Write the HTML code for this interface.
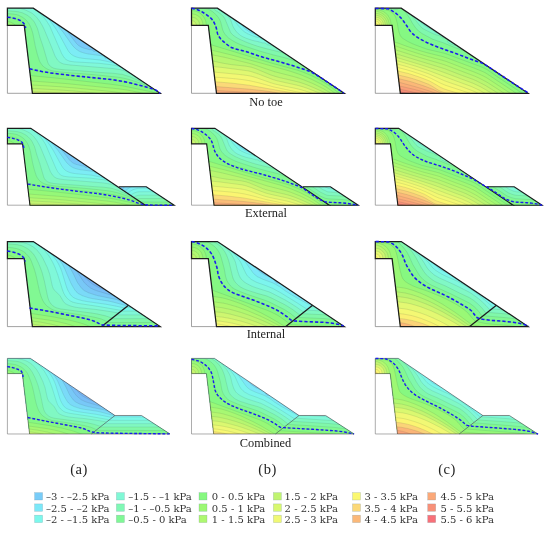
<!DOCTYPE html>
<html><head><meta charset="utf-8"><title>Pore pressure contours</title>
<style>
html,body{margin:0;padding:0;background:#fff}
svg{display:block}
.dl{fill:none;stroke:#1a1af0;stroke-width:1.55;stroke-dasharray:3.2 2.1}
.sl{fill:none;stroke:#1a1af0;stroke-width:1.5}
.ol{fill:none;stroke:#1c1c1c;stroke-width:1.25;stroke-linejoin:miter}
.ol4{fill:none;stroke:#4a4a4a;stroke-width:.7}
.wb{fill:none;stroke:#7a7a7a;stroke-width:.7}
.lb{font-family:"Liberation Serif","DejaVu Serif",serif;font-size:12.4px;text-anchor:middle;fill:#222}
.abc{font-family:"Liberation Serif","DejaVu Serif",serif;font-size:14.5px;letter-spacing:.6px;text-anchor:middle;fill:#222}
.lg{font-family:"DejaVu Serif","Liberation Serif",serif;font-size:10px;fill:#333}
.sw{stroke:#6a8a9a;stroke-opacity:.45;stroke-width:.5}
</style></head><body>
<svg width="550" height="533" viewBox="0 0 550 533">
<rect width="550" height="533" fill="#fff"/>
<defs>
<g id="fa1"><rect x="-4" y="-4" width="164" height="94" fill="#78c8f7"/>
<path d="M-3 -4 37.5 -4 41.1 0 45.9 7 50 12.2 56.3 19 58.9 22 68.8 35 70.8 37 73 38.5 76.6 40 81 41.2 84 41.6 85 41.9 86 42.9 87 43.3 89 42.6 90 42.7 93 43.8 94 44.2 96.4 46 98.3 47 99 47.7 100 47.1 101 46.9 102 47 103 47.4 106 49.4 108 50.5 116 53.3 123 57.2 130 59.7 139 63.5 143 64.6 153 66.5 160 68.2 160 90 -4 90 -4 -4 -3 -4Z" fill="#7adaf8"/>
<path d="M-3 -4 32.6 -4 36 -1.1 38.7 2 43 8.5 49 16 52.5 20 55.7 24 63.4 35 65.7 38 68 40.3 71 42.5 73 43.6 75 44.3 80 45.6 96 47.8 96.8 48 97.1 49 98 50.1 99 50.1 100 49.1 101 49 103.2 51 105 52.1 109 53.5 113 54.4 115 55 117 56 122 59.3 129 61.6 138 65.8 142 67 153 68.9 160 70.8 160 90 -4 90 -4 -4 -3 -4Z" fill="#7cecf5"/>
<path d="M-3 -4 25.4 -4 29 -2.3 32.3 0 36 3.6 38 6.2 40.4 10 45.3 16 48.1 20 51.1 25 54.5 31 58 37.7 61 42.8 63 45.3 65 46.9 68 48.5 72 49.6 77 50.3 93 51.8 100 53.2 109 55.6 113 56.4 116 57.6 121 61.3 125 62.3 128 63.3 135 67.1 138 68.5 141 69.3 148 70.3 151.8 71 155.5 72 160 73.5 160 90 -4 90 -4 -4 -3 -4Z" fill="#7cf8eb"/>
<path d="M-3 -4 10.6 -4 16 -2.9 22 -1.1 27 1 29 2.2 32 4.7 35 7.7 37 9.9 40.1 14 41.9 17 43.8 21 46.7 28 54.1 45 55.8 48 57 49.7 58.3 51 59.8 52 62 52.9 65 53.4 71 54 86 54.7 92 55.1 102 56.3 107 57 111.5 58 114 58.8 116 59.9 120.3 63 123 63.5 126 64.6 128 65.6 134 69.2 137.9 71 141 71.7 147 72.3 150 72.9 153 73.7 157 75 160 76.2 160 90 -4 90 -4 -4 -3 -4Z" fill="#7ff8d9"/>
<path d="M-3 -2.6 3 -1 12 0.1 17 1.4 20.9 3 24 4.6 26 6.1 28.1 8 30.8 11 32.3 13 35.7 19 41 31.1 44.2 39 46.8 46 48 48.6 50.2 52 52 53.7 53 54.4 56 55.7 63 56.8 102 60 111 61.1 115 62 118 63 120 64.4 122.4 65 131 70 137 73 140 73.8 146 74.3 149.6 75 153 76.1 160 79.1 160 90 -4 90 -4 -2.9 -3 -2.6Z" fill="#80f8c3"/>
<path d="M-3 1.8 0 2.6 5 2.9 11 3.6 15 4.6 18 6 21 7.8 23 9.4 25.5 12 27 14 28.1 16 30.3 21 32.5 29 35.5 38 40.7 55 41.9 57 42.8 58 44.3 59 47 60.2 53 61.2 62 62 73 62.6 93 64.3 107 65.2 112 65.7 116 66.4 121 68 138 75.3 140 75.7 146 76.3 149 77 151.4 78 160 82.1 160 90 -4 90 -4 1.5 -3 1.8Z" fill="#80f8aa"/>
<path d="M-3 5.2 6 5.9 9 6.4 11 7 14 8.4 16.5 10 18.8 12 20.5 14 22.9 18 24.8 23 25.6 26 27.4 36 28.3 40 30.4 48 31.8 52 33.3 55 34.7 57 36.9 59 40 61 42.7 62 45 62.6 52 63.7 59 64.4 79 65.8 103 68.1 112 69.2 119 70.6 130 73.8 139 77.3 145 78.2 147 78.7 149 79.5 155 82.8 160 85.2 160 90 -4 90 -4 5.1 -3 5.2Z" fill="#81f893"/>
<path d="M-3 8.8 4 9.5 8 10.4 10 11 13 12.5 15 13.9 16.1 15 17.4 17 18.2 20 18.3 23 17.7 26 15.8 31 15.2 34 14.7 40 14.9 45 15.8 50 17 53.6 19 57.1 21 59.6 22 60.5 23.4 61 41 64.5 65 67.4 102 71.2 114 73 123.9 75 132.2 77 146.5 81 148 81.8 152.8 85 160 88.5 160 90 -4 90 -4 8.7 -3 8.8Z" fill="#85f882"/>
<path d="M-3 12.8 0 13.2 2 13.6 5.3 15 6.8 16 9 18 10.3 20 10.7 22 10.7 24 8.2 34 7.4 40 7.3 45 7.9 50 9.3 55 10.8 58 12 60 13.5 62 15.6 64 17 65.1 19 66.2 21 66.9 24 67.5 55 70.5 104 76.1 116 77.8 144 83.6 146 84.4 151 87.5 156 90 -4 90 -4 12.7 -3 12.8Z" fill="#95f878"/>
<path d="M-3 18.5 -1.5 19 0.1 20 0.9 21 1.4 22 1.9 24 2 27 0.6 37 0.4 43 1 49 1.7 52 2.7 55 5.2 60 8.1 64 10 66 12.4 68 15 69.7 17 70.7 20.3 72 24 72.8 38 73.7 57 75.2 105 79.9 114 81 123 82.4 131 84.1 143 87.3 146 88.5 148.9 90 -4 90 -4 18.3 -3 18.5Z" fill="#a5f872"/>
<path d="M-3.9 54 -2.2 58 0.2 62 2.4 65 5.2 68 8.9 71 12 73 16 74.9 20 76.1 25 76.9 47 78.2 68 79.8 101.4 83 108.9 84 114 85 121 85.5 126 86.2 131 87.4 139.4 90 -4 90 -3.9 54Z" fill="#b3f770"/>
<path d="M-3.8 65 -1.2 68 1 70.2 4 72.7 7 74.7 10 76.4 13 77.7 16.8 79 20 79.7 24 80.2 51 81.7 75 83.5 88 85.1 99 86.2 114 88.6 122 89.2 127.1 90 -4 90 -4 64.7 -3.8 65Z" fill="#c2f470"/>
<path d="M-3.5 72 1.6 76 6.7 79 12 81.2 15 82.1 18 82.7 22 83.2 48 84.4 65 85.7 76 86.8 87 88.4 100.8 90 -4 90 -4 71.5 -3.5 72Z" fill="#d6f870"/><path d="M37.5 -4 41.1 0 46 7.1 49 11 58.1 21 69 35.2 70.8 37 72.2 38 74 39 76.6 40 82 41.4 84 41.6 85.1 42 86.2 43 87 43.3 89 42.6 90 42.7 94 44.2 96.4 46 98.3 47 99 47.7 100 47.1 101 46.9 102 47 103 47.4 107 50 109.1 51 115 52.9 117.5 54 122.6 57 124 57.6 131 60.1 140 63.8 143 64.6 153 66.5 160 68.2M32.6 -4 36.1 -1 38 1.1 39.4 3 43 8.5 56 24.3 64.2 36 66 38.3 69 41.1 71 42.5 73 43.6 75 44.3 78 45.2 81 45.8 96 47.8 96.8 48 97.1 49 98 50.1 99.1 50 100 49.1 101 49 103.2 51 105 52.1 110 53.8 114 54.7 116 55.5 122 59.3 129 61.6 137 65.4 139 66.2 144 67.4 152 68.7 160 70.8M25.4 -4 28 -2.8 30 -1.7 32.3 0 34.5 2 36.3 4 41 10.7 43.7 14 47.4 19 50 23.1 53 28.3 59.3 40 61.1 43 62.7 45 64 46.2 66 47.5 69.5 49 72 49.6 76 50.2 93 51.8 102 53.7 109 55.6 113 56.4 115 57.1 117 58.3 121 61.3 125 62.3 127.2 63 129.4 64 136 67.6 138 68.5 142 69.5 151 70.8 154 71.6 160 73.5M10.6 -4 17 -2.7 21 -1.4 27 1 29 2.2 31.1 4 34 6.6 36.2 9 39.3 13 42.4 18 54.1 45 55.8 48 57.2 50 58.3 51 60 52.1 62.3 53 67 53.7 92 55.1 102 56.3 107 57 111.5 58 115 59.3 117 60.5 120.3 63 123 63.5 127 65 133.7 69 138 71 140 71.5 147 72.3 150 72.9 153 73.7 160 76.2M-4 -2.9 3.1 -1 13 0.3 15.8 1 18 1.8 23 4.1 25 5.3 27.1 7 29.1 9 32.3 13 34.7 17 36.7 21 44.2 39 47.7 48 50.2 52 52.4 54 54.1 55 56 55.7 58 56.1 63 56.8 98 59.7 106 60.4 112 61.3 115.1 62 118 63 120 64.4 122.4 65 130 69.4 137.1 73 139 73.6 146 74.3 149 74.8 154 76.5 160 79.1M-4 1.5 0 2.6 7 3.1 11 3.6 15 4.6 19.8 7 23 9.4 24.6 11 26.3 13 27.6 15 30 20.1 30.9 23 32.5 29 35.9 39 40.3 54 41.2 56 42 57.1 44.3 59 46.4 60 48 60.4 51.3 61 56 61.5 73 62.6 96 64.5 106 65.1 115 66.2 122 68.4 138 75.3 139 75.6 146 76.3 150 77.4 160 82.1M-4 5.1 6 5.9 9 6.4 11 7 15 9 18 11.2 19.7 13 21.2 15 22.4 17 23.8 20 24.8 23 25.6 26 27.9 38 29.9 46 32 52.5 32.7 54 35 57.3 37 59.1 40.1 61 43 62.1 46 62.8 50 63.4 57 64.2 81 66 92 67 112 69.2 116.3 70 121 71.1 128 73.2 133.2 75 139 77.3 146 78.4 148 79 156 83.3 160 85.2M-4 8.7 5 9.7 10 11 12.2 12 15.2 14 16.1 15 17.4 17 18 19 18.3 21 18.3 23 18 25 15.8 31 15.3 33 14.9 36 14.7 40 15.1 46 16.1 51 17 53.6 19 57.1 21 59.6 22 60.5 23.4 61 29 62.2 39 64.2 44 64.9 68 67.7 100 70.9 114 73 124 75 135 77.8 146.5 81 152 84.5 160 88.5M-4 12.7 0 13.2 2 13.6 4 14.3 7 16.2 9 18 10.3 20 10.7 22 10.7 24 7.7 37 7.4 40 7.3 46 7.7 49 9 54.1 11 58.4 13.5 62 16 64.3 18 65.7 20 66.6 22 67.2 24 67.5 47 69.7 66 71.8 103 76 116 77.8 144 83.6 145.1 84 147 85 151 87.5 156 90M-4 18.3 -2 18.8 -1 19.2 0.1 20 1 21.2 1.7 23 2 25 2 27 0.6 37 0.4 43 1 49 1.7 52 2.7 55 5 59.7 7.3 63 9 65 11.1 67 13 68.4 17 70.7 21 72.2 23 72.7 59 75.4 111 80.6 120 81.9 131 84.1 143 87.3 145 88.1 148.9 90M-4 53.8 -1.6 59 0.2 62 2 64.5 5.2 68 7.5 70 12 73 15 74.4 18 75.6 21 76.3 26 76.9 52 78.5 68 79.8 103 83.2 109 84 115 85.1 122 85.6 126 86.2 130 87.1 139.4 90M-4 64.7 -2.1 67 2 71.1 4.4 73 7 74.7 12 77.3 15 78.4 18 79.3 21 79.9 24 80.2 51 81.7 67 82.8 78 83.8 89 85.2 97 86 103 86.7 114 88.6 122 89.2 127.1 90M-4 71.5 1 75.6 4 77.5 6.7 79 12 81.2 15 82.1 18 82.7 22 83.2 48 84.4 65 85.7 76 86.8 87 88.4 100.8 90" fill="none" stroke="#2c4a44" stroke-opacity=".3" stroke-width=".42"/></g>
<clipPath id="cp00"><polygon points="0,0 25.9,0 152.8,85.1 25,85.1 16.8,17.1 0,17.1"/></clipPath>
<clipPath id="cp01"><polygon points="0,0 25.9,0 152.8,85.1 25,85.1 16.8,17.1 0,17.1"/></clipPath>
<g id="t01"><rect x="80" y="50" width="114.5" height="39.5" fill="#78caf8"/>
<path d="M143.5 58.9 147 58.7 191.5 58.7 194.5 58.9 194.5 89.5 80 89.5 80 85.2 120.3 85 120.8 80.5 122 76 124.2 71.5 127 67.7 130.5 64.4 134.5 61.8 139 59.9 143.5 58.9Z" fill="#7adef8"/>
<path d="M142.5 63 147 62.5 191.5 62.5 194.5 62.8 194.5 89.5 80 89.5 80 85.2 124.1 85 124.5 81 125.5 77.5 127.1 74 129.5 70.6 132.1 68 135.5 65.6 139 63.9 142.5 63Z" fill="#7ceef4"/>
<path d="M144.5 66.5 147 66.3 191.5 66.3 194.5 66.6 194.5 89.5 80 89.5 80 85.2 127.9 85 128.3 81.5 129.2 78.5 130.7 75.5 132.9 72.5 135.5 70.1 138.1 68.5 141 67.3 144.5 66.5Z" fill="#7cf8e9"/>
<path d="M144 70.4 147 70.1 190.5 70.1 192.5 70.2 194.5 70.5 194.5 89.5 80 89.5 80 85.2 131.7 85 132 82.5 132.7 80 133.9 77.5 135.3 75.5 137 73.8 139 72.3 141.5 71.1 144 70.4Z" fill="#80f8d8"/>
<path d="M146 74 191.5 73.9 194.5 74.4 194.5 89.5 80 89.5 80 85.2 135.5 85 135.8 83 136.4 81 137.4 79 138.6 77.5 140.4 76 142 75 144 74.3 146 74Z" fill="#80f8c1"/>
<path d="M145 78 147 77.7 191.5 77.7 193 77.9 194.5 78.5 194.5 89.5 80 89.5 80 85.2 139.3 85 139.9 82.5 141 80.5 143 78.8 145 78Z" fill="#80f8a9"/>
<path d="M145.5 81.8 147 81.5 192 81.6 193.5 82.3 194.5 83.4 194.5 89.5 80 89.5 80 85.2 142.5 85 143.1 85 143.4 84 143.9 83 144.5 82.4 145.5 81.8Z" fill="#81f892"/><path d="M80 85.2 120.3 85 120.9 80 121.5 77.5 122.4 75 123.5 72.7 126 68.9 127.6 67 129.5 65.2 131.5 63.6 135.5 61.3 138 60.3 140.5 59.5 145.5 58.8 148.5 58.7 193 58.8 194.5 58.9M80 85.2 124.1 85 124.6 80.5 126 76.3 128.1 72.5 129.6 70.5 132.7 67.5 134.5 66.2 136.6 65 138.8 64 142.5 63 147 62.5 194.5 62.8M80 85.2 127.9 85 128.4 81 129 79 130.7 75.5 133 72.4 134.5 70.9 136.4 69.5 138.1 68.5 140 67.6 144 66.5 146 66.3 149.5 66.3 193.5 66.5 194.5 66.6M80 85.2 131.7 85 131.9 83 132.4 81 133 79.2 134.5 76.5 135.8 75 138.5 72.7 140 71.8 143.5 70.5 145.5 70.2 188.5 70.1 193 70.2 194.5 70.5M80 85.2 135.5 85 136 82 136.6 80.5 137.5 78.9 138.6 77.5 140 76.3 141.5 75.3 144.5 74.2 148 73.9 191.5 73.9 194.5 74.4M80 85.2 139.3 85 139.5 83.5 140 82.2 141 80.5 142 79.5 144 78.3 145.5 77.9 147 77.7 192.5 77.8 194.5 78.5M80 85.2 143.1 85 143.4 84 143.9 83 144.5 82.4 145.5 81.8 146.5 81.5 192 81.6 193.1 82 194 82.7 194.5 83.4" fill="none" stroke="#2c4a44" stroke-opacity=".3" stroke-width=".42"/></g>
<clipPath id="ctp01"><polygon points="123.5,64.6 153.9,64.6 184.8,85.1 152.8,85.1"/></clipPath>
<g id="fa3"><rect x="-4" y="-4" width="164" height="94" fill="#78b3f4"/>
<path d="M-3 -4 42.9 -4 49.4 4 53.9 9 57 11.8 63 16.8 66 19.7 67.9 22 78 36 81 39.3 85 42.5 88 44.3 93 46.7 95 47.5 99.9 49 103 50.2 106 51.9 110 54.9 112 55.3 113.9 56 118 58.7 119 59 122 59.4 125 60.1 134 63 146.3 68 160 74.1 160 90 -4 90 -4 -4 -3 -4Z" fill="#78bdf6"/>
<path d="M-3 -4 39.3 -4 41.9 -1 46.5 5 52 11.2 54 13.2 62 19.9 64 22 65.5 24 68 28.1 72.9 35 76 39.9 78 42.2 81 44.9 84 47 88 48.8 98 52 106 54.1 109 55.5 110.6 56 112.7 57 116 59.2 117 60 118 60.5 120 60.7 123 61.4 127.8 63 132.9 65 144.5 70 160 77.3 160 90 -4 90 -4 -4 -3 -4Z" fill="#78c8f7"/>
<path d="M-3 -4 35.4 -4 39 -0.4 43.8 6 48 10.5 50.8 14 55.2 18 61.2 24 62 25.1 65.8 32 70.1 41 73.5 46 76 48.5 78 49.8 80.4 51 87 53.3 92 54.5 109 57.9 111 58.8 115 60.4 117 61.6 119.2 62 122.2 63 131.8 67 142.6 72 159.1 80 160 80.5 160 90 -4 90 -4 -4 -3 -4Z" fill="#7adaf8"/>
<path d="M-3 -4 30.6 -4 34 -1.6 37 1.1 39 3.6 41.9 8 46.2 12 49 15.6 51.4 18 53.9 21 55.2 23 56.8 26 62.3 39 64.2 43 67.8 49 69.6 51 70.8 52 72.4 53 75 54.2 81 56.2 87 57.4 103 59.9 113 62.4 117 63.7 120 64.4 122 65.2 136.5 72 160 83.8 160 90 -4 90 -4 -4 -3 -4Z" fill="#7cecf5"/>
<path d="M-3 -4 23.2 -4 26 -2.9 29 -1.4 32 0.4 34 1.9 37 4.9 40.6 10 43 12 46 15 49.1 19 50.3 21 52 24.1 54 28.9 58.2 43 60 47.7 61.7 51 62.9 53 64.7 55 66.1 56 68 57 70.7 58 77 59.6 83 60.6 95 62.2 101 63.2 118 66.7 121 67.6 124.4 69 130.6 72 160 87.2 160 90 -4 90 -4 -4 -3 -4Z" fill="#7cf8eb"/>
<path d="M-3 -4 8.1 -4 16 -2.5 20 -1.5 24.1 0 28.3 2 32 4.4 36 7.7 38 9.8 41.3 14 44.3 19 46.8 24 49.6 31 54.9 48 57 53 58.3 55 60 57 63 59.5 66 60.8 70 61.8 84 63.8 94 65.4 113 68.8 117 69.6 120 70.4 124 72 130 74.9 158.7 90 -4 90 -4 -4 -3 -4Z" fill="#7ff8d9"/>
<path d="M-3 -2.3 1 -1.5 14 0.6 18 1.7 22 3.2 25.3 5 27.9 7 29.9 9 32.5 12 34.5 15 37.7 21 39.9 26 42.4 33 44.5 43 45.1 45 46 47.2 47.3 49 51 52.5 53 54.8 55.3 59 56.8 61 57.8 62 59 62.7 61.8 64 64 64.8 69 65.9 75 66.7 89 68 96.5 69 111 71.4 117.2 73 122 74.6 127.2 77 152 90 -4 90 -4 -2.6 -3 -2.3Z" fill="#80f8c3"/>
<path d="M-3 1.8 0 2.5 4 2.6 9 3.1 12 3.6 14 4.1 18.1 6 21.4 8 23.7 10 26 12.6 28 15.5 29.9 19 32.5 25 34.7 31 36.6 38 40 54 41.1 58 42 60 43.3 62 45.2 64 47 65.3 50 66.7 55 67.8 81 71 91 72.6 98 74.3 104 76.3 105 76.4 109 75.8 111 75.8 116 76.6 121 78.2 126 80.2 133.7 84 145.1 90 -4 90 -4 1.5 -3 1.8Z" fill="#80f8aa"/>
<path d="M-3 5.5 5 6.3 9 7 12 8 15 9.4 17.4 11 19.6 13 21.3 15 22.7 17 24.1 20 27 27.9 29 35 31.3 46 32.5 51 34.5 57 36.6 61 38.1 63 40.2 65 43.1 67 47.3 69 52 70.2 75 73.5 88.6 76 94 77.5 99.8 80 101 80.3 105 80.7 113 80.6 118 81.5 122 82.7 126 84.3 137.8 90 -4 90 -4 5.3 -3 5.5Z" fill="#81f893"/>
<path d="M-3 9.2 4 10.2 8 11.2 11 12.3 13 13.3 15 14.8 16 16 17.2 18 18 20 18.2 23 17.9 25 15.7 31 15.1 34 14.7 41 15 48 16 53.7 18 59.7 19.8 64 21 65.6 22 66.4 23 66.7 29 67.6 43 70.1 60 73.6 77.6 77 82 78.1 87.8 80 93 82.7 95 83.4 98 83.9 111 84.8 116 85.5 122 87.1 129.4 90 -4 90 -4 9 -3 9.2Z" fill="#85f882"/>
<path d="M-3.6 13 1 13.6 3 14.2 4.9 15 8.1 17 9.1 18 10.4 20 10.8 22 10.7 25 8.2 35 7.2 41 7 46 7.3 51 7.8 54 8.6 57 10.6 62 13.2 66 15 68 17 69.6 19.7 71 22 71.7 48 75.8 57 77.5 66 79.6 75 82.1 83 85.1 92 87.6 96 88.1 103 88.3 107 88.7 112 89.3 116.2 90 -4 90 -4 13 -3.6 13Z" fill="#95f878"/>
<path d="M-3 18.3 -0.6 19 0.8 20 2.2 22 2.6 24 2.6 27 0.9 37 0.3 43 0.5 49 1.6 55 3.3 60 5.4 64 8.3 68 11 70.6 12.8 72 15 73.3 17 74.3 20 75.3 23 76 33 77.3 44 79 56 81.4 60 82.5 64.8 84 76 88.3 80.9 90 -4 90 -4 18.2 -3 18.3Z" fill="#a5f872"/>
<path d="M-3.9 57 -2.6 60 -1.1 63 0.7 66 3 69 5 71.1 8 73.7 10 75 13 76.7 16.4 78 20 78.9 34 80.8 45.2 83 59 86.6 63 87.9 68.1 90 -4 90 -4 56.6 -3.9 57Z" fill="#b3f770"/>
<path d="M-3.7 68 -0.3 72 4 75.8 8 78.4 13 80.7 16 81.6 19 82.2 28 83 39 84.9 55.4 90 -4 90 -4 67.6 -3.7 68Z" fill="#c2f470"/><path d="M42.9 -4 49.4 4 53 8 55 10 64 17.7 66 19.7 69.3 24 77.2 35 79 37.2 81 39.3 85 42.5 90 45.3 94 47.1 103 50.2 107 52.6 110 54.9 113 55.6 114 56.1 118 58.7 126 60.4 135 63.4 142 66.2 160 74.1M39.3 -4 41.1 -2 46.5 5 53 12.2 62.1 20 64 22 65.5 24 68.6 29 72.2 34 75.4 39 77 41.1 79 43.2 83 46.4 87 48.4 90 49.5 107 54.5 113 57.2 117 60 118 60.5 122 61.1 125 62 130.4 64 147 71.1 160 77.3M35.4 -4 37.6 -2 39.4 0 44 6.3 48.4 11 51 14.2 56.2 19 61.2 24 62 25.1 65.8 32 69.5 40 71 42.4 74.4 47 77 49.2 81 51.2 88 53.5 91 54.3 109.2 58 115 60.4 117 61.6 119.2 62 122.2 63 129 65.8 144.7 73 160 80.5M30.6 -4 34 -1.6 36 0.1 38 2.3 39.3 4 42 8.1 46.2 12 49.3 16 52.3 19 54 21.1 55.2 23 56.8 26 63.2 41 65 44.4 67.1 48 68.6 50 71 52.1 75 54.2 81 56.2 85 57.1 101 59.5 105 60.4 120 64.4 128.2 68 160 83.8M23.2 -4 26 -2.9 29 -1.4 33 1.1 35.2 3 37.1 5 40.6 10 44.1 13 46 15 49.1 19 51 22.2 53.3 27 54.4 30 59.3 46 60.6 49 63 53.1 64 54.3 66.1 56 68 57 71 58.1 75 59.2 80 60.1 99 62.8 108 64.5 119 66.9 121 67.6 129 71.2 160 87.2M8.1 -4 20 -1.5 26 0.8 28.3 2 31 3.7 35.2 7 37 8.7 41.3 14 43.7 18 45.9 22 47.7 26 50.3 33 55.3 49 56.5 52 58.3 55 60 57 63 59.5 65 60.5 67 61.1 70 61.8 91.4 65 116 69.3 119 70.1 122 71.1 126 72.9 158.7 90M-4 -2.6 -1 -1.9 16 1.1 19 2 22 3.2 26 5.5 27.9 7 30 9.1 33.2 13 35.6 17 40 26.2 42.4 33 45 44.8 46 47.2 47 48.6 52.4 54 53.1 55 56 60 57 61.2 58 62.1 60 63.2 62 64.1 65 65 68 65.7 72 66.3 88 67.9 105 70.4 113.4 72 120 73.9 127.2 77 152 90M-4 1.5 -1 2.3 10 3.2 14 4.1 16.1 5 19 6.5 21.4 8 24.7 11 26.3 13 28 15.5 31 21.4 32.9 26 34.7 31 37 39.6 40.2 55 41.1 58 42 60 43.3 62 45.2 64 47 65.3 49 66.3 53 67.4 84 71.5 90 72.5 98 74.3 104 76.3 105 76.4 109 75.8 111 75.8 116 76.6 122 78.5 126 80.2 131 82.6 145.1 90M-4 5.3 5 6.3 9 7 11 7.6 15 9.4 17 10.7 18.6 12 21.3 15 22.7 17 24 19.7 26.7 27 28 31.3 29.4 37 31.3 46 32.5 51 33.7 55 35.4 59 36.6 61 38.1 63 40.2 65 44 67.5 46 68.5 50 69.8 74 73.4 87 75.7 94 77.5 100 80.1 102 80.4 105 80.7 113 80.6 116 81 119 81.7 122 82.7 126 84.3 137.8 90M-4 9 4 10.2 10.2 12 12.4 13 14 14 16 16 17.2 18 18 20 18.2 23 17.9 25 15.5 32 15 34.9 14.7 41 14.8 45 15.1 49 15.6 52 16.4 55 19.3 63 20 64.3 21 65.6 22 66.4 23 66.7 36 68.8 79 77.3 84 78.7 88 80.1 93.7 83 95 83.4 100 84 113 85 116 85.5 122 87.1 129.4 90M-4 13 0 13.4 2.4 14 4 14.6 6 15.6 8.1 17 9.1 18 10.4 20 10.8 22 10.8 24 10.5 26 8.4 34 7.2 41 7 47 7.2 50 7.6 53 8.3 56 10.1 61 12.4 65 14 67 17 69.6 20 71.1 22 71.7 46 75.4 62 78.6 72 81.2 76 82.4 83 85.1 92 87.6 97 88.2 106 88.6 112 89.3 116.2 90M-4 18.2 -2 18.5 0 19.3 1 20.2 1.6 21 2.5 23 2.7 25 2.6 27 0.7 38 0.4 41 0.3 47 0.6 50 1.1 53 1.9 56 2.9 59 4.3 62 7 66.4 10.3 70 14 72.8 16 73.8 20 75.3 23.1 76 42 78.7 50 80.1 58.3 82 62 83.1 67.6 85 80.9 90M-4 56.6 -2.6 60 -1.1 63 0.7 66 3 69 5 71.1 8 73.7 10 75 13 76.7 16.4 78 20 78.9 34 80.8 45.2 83 59 86.6 63 87.9 68.1 90M-4 67.6 -0.3 72 3 75 7.3 78 12 80.3 15 81.3 18 82 28 83 39 84.9 55.4 90" fill="none" stroke="#2c4a44" stroke-opacity=".3" stroke-width=".42"/></g>
<clipPath id="cp02"><polygon points="0,0 25.9,0 121.1,63.8 94.3,85.1 25,85.1 16.8,17.1 0,17.1"/></clipPath>
<g id="t02"><rect x="80" y="50" width="114.5" height="39.5" fill="#7ceef4"/>
<path d="M85 66 87.5 65.8 157.5 65.8 161.5 66.2 164.5 67.1 167.4 68.5 170 70.4 172.1 72.5 173.9 75 175.3 78 176.2 81 176.6 84.5 194.5 84.6 194.5 89.5 80 89.5 80 67.4 82.5 66.5 85 66Z" fill="#7cf8e9"/>
<path d="M84.5 69.9 87.5 69.6 157.5 69.6 160.5 69.9 163 70.6 165.5 71.8 167.5 73.3 169.2 75 170.6 77 171.8 79.5 172.5 82 172.8 84.5 194.5 84.6 194.5 89.5 80 89.5 80 71.6 82 70.7 84.5 69.9Z" fill="#80f8d8"/>
<path d="M86.5 73.5 157.5 73.4 159.5 73.6 161.5 74.1 163.4 75 165 76.1 166.4 77.5 167.5 79.2 168.3 81 168.8 82.5 169 84.5 194.5 84.7 194.5 89.5 80 89.5 80 76.3 81.5 75.2 83 74.4 84.5 73.8 86.5 73.5Z" fill="#80f8c1"/>
<path d="M85.5 77.5 87.5 77.2 158.5 77.3 161 78 163 79.5 164 80.7 164.7 82 165.2 84.5 194.5 84.7 194.5 89.5 80 89.5 80 84 80.8 81.5 81.7 80 82.7 79 84 78.1 85.5 77.5Z" fill="#80f8a9"/>
<path d="M86 81.4 87.5 81 158 81 159 81.3 160.2 82 160.9 83 161.4 84.5 194.5 84.7 194.5 89.5 80 89.5 80 84.6 83.8 84.5 84 83.5 84.5 82.6 85 82 86 81.4Z" fill="#81f892"/>
<path d="M80.5 84.8 194.5 84.8 194.5 89.5 80 89.5 80 84.8 80.5 84.8Z" fill="#85f883"/><path d="M80 67.4 84 66.1 88 65.8 160 66 164 66.9 166 67.8 168 68.9 171.2 71.5 173.6 74.5 174.7 76.5 176.1 80.5 176.6 84.5 194.5 84.6M80 71.6 83.5 70.2 85.5 69.7 87.5 69.6 143.5 69.6 160 69.8 162 70.3 165 71.5 166.5 72.5 169.2 75 171.2 78 172 79.9 172.4 81.5 172.8 84.5 194.5 84.6M80 76.3 82.5 74.6 84 74 87 73.4 158.5 73.4 161.5 74.1 163 74.8 165.5 76.6 166.7 78 167.7 79.5 168.8 82.5 169 84.5 194.5 84.7M80 84.5 80.2 83 81 81 82.7 79 84.5 77.9 86 77.4 87.5 77.2 154.5 77.2 158.5 77.3 160 77.6 162 78.6 163 79.5 164.5 81.6 165 83 165.2 84.5 194.5 84.7M80 84.6 83.8 84.5 84 83.5 84.6 82.5 85.5 81.6 86.5 81.2 87.5 81 155.5 81 158.5 81.1 159.5 81.5 160.6 82.5 161.5 84.5 194.5 84.7M80 84.8 194.5 84.8" fill="none" stroke="#2c4a44" stroke-opacity=".3" stroke-width=".42"/></g>
<clipPath id="ctp02"><polygon points="121.1,63.8 152.8,85.1 94.3,85.1"/></clipPath>
<clipPath id="cp03"><polygon points="0,0 25.9,0 121.1,64.3 94.5,85.1 25,85.1 16.8,17.1 0,17.1"/></clipPath>
<g id="t03"><rect x="80" y="50" width="114.5" height="39.5" fill="#7ceef4"/>
<path d="M86 66 189 65.9 193 66.4 194.5 66.8 194.5 89.5 80 89.5 80 67.4 83 66.4 86 66Z" fill="#7cf8e9"/>
<path d="M84.5 70 88 69.7 189 69.7 191.5 70 194.5 70.8 194.5 89.5 80 89.5 80 71.6 82 70.7 84.5 70Z" fill="#80f8d8"/>
<path d="M84.5 73.9 87.5 73.5 188 73.5 190.5 73.6 192.5 74.1 194.5 75.1 194.5 89.5 80 89.5 80 76.2 82 74.9 84.5 73.9Z" fill="#80f8c1"/>
<path d="M86 77.4 87.5 77.3 189.5 77.3 192 78 193.5 79 194.5 80 194.5 89.5 80 89.5 80 83.1 80.6 81.5 81.6 80 83 78.7 84.5 77.9 86 77.4Z" fill="#80f8a9"/>
<path d="M86 81.4 87.5 81.1 189 81.1 190.5 81.5 191.5 82.3 192.3 83.5 192.5 84.5 194.5 84.6 194.5 89.5 80 89.5 80 84.6 83.6 84.5 83.9 83.5 84.5 82.5 86 81.4Z" fill="#81f892"/>
<path d="M80.5 84.8 89.5 84.9 188 84.9 194.5 84.8 194.5 89.5 80 89.5 80 84.8 80.5 84.8Z" fill="#85f883"/><path d="M80 67.4 84 66.2 88.5 65.9 191 66 194.5 66.8M80 71.6 83.5 70.2 85.5 69.8 87.5 69.7 190 69.8 192 70.1 194.5 70.8M80 76.2 82.5 74.6 84.1 74 87 73.5 189 73.5 192 74 194.5 75.1M80 83.1 81 80.8 82.6 79 84.5 77.9 86 77.4 87.5 77.3 189.5 77.3 192 78 193 78.6 194.5 80M80 84.6 83.6 84.5 83.9 83.5 84.5 82.5 86 81.4 87 81.1 103.5 81.1 189.5 81.2 190.5 81.5 191.5 82.3 192 83 192.5 84.5 194.5 84.6M80 84.8 89.5 84.9 188 84.9 194.5 84.8" fill="none" stroke="#2c4a44" stroke-opacity=".3" stroke-width=".42"/></g>
<clipPath id="ctp03"><polygon points="121.1,64.3 151,64.3 183.1,85.1 94.5,85.1"/></clipPath>
<g id="fb1"><rect x="-4" y="-4" width="164" height="94" fill="#7ce8f8"/>
<path d="M-3 -4 34.2 -4 41.9 5 45.8 11 51 18 53.9 21 56.7 23 60 24.8 63 26 69 27.1 70 27.8 69.8 29 70 29.3 71 30 72 29.4 73 29.2 74 29.6 76 31.3 77 31 78 30.5 79 30.2 80 30.2 81 30.5 83 31.9 86 35 87.6 36 91 37.1 97 39.6 111 44.2 117 46.9 121 49.1 126 52.5 138.1 62 143 65.5 148.8 69 160 75.1 160 90 -4 90 -4 -4 -3 -4Z" fill="#7cf5ee"/>
<path d="M-3 -4 30.2 -4 33.7 1 38 5 39.8 7 43 12.5 46.3 17 50.8 22 54 24.4 58 26.4 63 28.3 66 29.2 68 29.3 69 29.8 70 30.9 71 31.2 72 30.8 73 30.7 74 31.1 75.3 32 75.7 34 76.5 35 77 35.3 78 35.3 78.9 35 80 34.2 81 34.4 86 37.8 90 39 95 41.5 110 46.5 115 48.6 119.2 51 125 54.8 137 64.3 142 67.8 147 70.8 160 78 160 90 -4 90 -4 -4 -3 -4Z" fill="#7ff8de"/>
<path d="M-3 -4 25.2 -4 27 -2.8 28 -1.7 29.9 2 31 3.6 35 6.5 36.6 8 38 9.6 39.3 12 41.4 18 43 20.9 46 24.7 48.6 27 52.2 29 60 31.9 64 33 67 33.5 71 34.7 73 34.7 76 36.5 79.2 37 82.3 38 87.3 40 94 43.5 98.5 45 104 47.4 110 49.2 115 51.6 121 55.2 125 57.9 135.2 66 140 69.4 144.2 72 160 80.9 160 90 -4 90 -4 -4 -3 -4Z" fill="#80f8c7"/>
<path d="M-3 -4 6.5 -4 10 -3.6 15 -3.4 18 -2.9 20 -2 21.5 -1 22.4 0 23.6 2 26 3.4 29 5.5 31.7 8 32.4 9 34.1 12 37.2 20 39 24 41 26.4 44 28.7 50 32 59 35.6 70 39.1 77 41 84 42.5 90 44.1 95 46 102 49.5 108 51.3 111.9 53 124 60.3 134.1 68 139.9 72 160 83.9 160 90 -4 90 -4 -4 -3 -4Z" fill="#80f8ac"/>
<path d="M-3 -3.7 1 -2.3 9 -0.2 12 0.3 16 0.7 18 1.5 21 3.4 24.1 6 25.1 7 26.7 9 28 11 29.3 14 31 21.3 31.7 23 33 25.2 34.3 27 36.2 29 38 30.5 41 32.4 47 35.5 55 38.5 68 42.8 77 45.5 95 50 103.6 53 110 55.7 114 58.1 122 62 137.6 73 160 86.9 160 90 -4 90 -4 -4 -3 -3.7Z" fill="#81f893"/>
<path d="M-3.8 -1 -0.3 0 4 0.9 8 2.2 10 3.2 13 5 18.4 9 21 11.7 23 15 24 17.3 24.9 20 26.2 26 27.8 29 29.4 31 31.4 33 39 38.9 41.6 40 44.8 41 55 43.6 71.2 49 88 53.5 98 56.4 110 60.4 120 64 132 71.6 152 84.9 160 89.8 160 90 -4 90 -4 -1.1 -3.8 -1Z" fill="#86f881"/>
<path d="M-3 1.9 3 2.7 6.8 4 9.7 6 12.4 9 13.5 11 14.5 14 15.7 25 17.9 34 18.9 36 20 36.7 80.1 55 106 62 114 64.9 123 68.9 132.2 74 139.7 79 148 85.4 155.3 90 -4 90 -4 1.7 -3 1.9Z" fill="#98f876"/>
<path d="M-3 4.9 0 5.6 3 6 5 6.7 7 7.9 8 8.8 9.1 10 10 11.4 10.7 13 11.3 15 12 27 13 34.1 14 36.9 15 38.6 16.4 40 18 41.1 20.5 42 42 47.3 81.3 58 98.6 63 108 66.1 114 68.4 120 71.1 130 76.1 137 80.4 147 87.8 150.4 90 -4 90 -4 4.7 -3 4.9Z" fill="#a9f871"/>
<path d="M-3.3 8 -1 8.7 3 9.5 4 9.9 6 11.5 7.1 13 7.9 15 8.2 17 8.9 31 9.7 36 10.8 39 12 41.1 14 43.4 16 44.8 18 45.8 20 46.4 41.3 51 57 54.9 63 56.8 82 63.2 88.3 65 102 68.4 110 70.8 120 74.8 131 80.1 139 84.8 146 90 -4 90 -4 7.8 -3.3 8Z" fill="#b8f670"/>
<path d="M-3.6 11 2.5 13 3.8 14 4.3 15 5.1 18 5.5 21 5.6 30 5.8 34 6.3 37 7 39.4 8.6 43 11 46.3 14 49 17 51 20 52.4 21.9 53 31.3 55 39 56.3 55 58.1 59.6 59 62.9 60 68.1 62 78 66.3 82.8 68 89 69.6 105 73.3 110 74.8 115 76.6 122 79.4 134 84.8 138 87.2 141.8 90 -4 90 -4 10.9 -3.6 11Z" fill="#cbf670"/>
<path d="M-3.8 14 0 15.1 1.2 16 2 17.4 2.5 21 2.3 31 2.5 35 3.4 40 4.9 44 7 47.8 9.5 51 12.8 54 16 56.2 19 57.6 22 58.3 50 61.7 56 62.6 60 63.5 65 65.1 77 69.8 83 71.9 89 73.4 105 76.9 114 79.5 120 81.7 128.3 85 134 87.9 137.5 90 -4 90 -4 13.9 -3.8 14Z" fill="#e0f871"/>
<path d="M-3.9 18 -2.4 19 -1.8 20 -1.6 21 -1.3 24 -1.4 32 -1.2 36 -0.2 41 1.5 46 4 50.6 7.4 55 9.4 57 11.8 59 16 61.6 20 63.2 23 63.9 49 66.4 55 67.2 60 68.1 66 69.9 77.6 74 82 75.4 88.6 77 103 80 113 82.6 125 86.6 128 87.8 132.3 90 -4 90 -4 17.9 -3.9 18Z" fill="#f2f873"/>
<path d="M-3.8 43 -2.4 47 -0.4 51 2 54.8 4.5 58 7.5 61 11 63.8 14.5 66 18 67.6 21 68.5 23 68.9 33 69.6 44 70.6 53 71.7 60 72.8 65 74 83.5 79 112 85 126.1 90 -4 90 -4 42.3 -3.8 43Z" fill="#fbf571"/>
<path d="M-3.9 53 -1.4 57 1 60 3.7 63 6 65.1 9 67.5 12 69.5 15 71.1 19 72.6 23 73.5 41 75 56 76.8 64 78.1 88 82.6 104 85 112 87.5 118.5 90 -4 90 -3.9 53Z" fill="#fbd978"/>
<path d="M-3.3 61 -0.7 64 2 66.8 5 69.4 8 71.6 12 74 15 75.5 18.9 77 22 77.9 25 78.4 56 80.8 76 83 83 84 89 85.2 103 86.8 105 87.4 111.8 90 -4 90 -4 60.1 -3.3 61Z" fill="#fbbc78"/>
<path d="M-3.1 67 2.3 72 6 74.7 9 76.5 12 78.1 16 79.9 19.2 81 23 82 25 82.3 53 83.9 65 85.1 77 85.7 82 86.3 89 87.5 100 88.6 103 89.2 105.5 90 -4 90 -4 66.1 -3.1 67Z" fill="#fbac78"/><path d="M34.2 -4 41.1 4 47.3 13 52 19.1 54 21 58 23.7 62 25.6 64 26.2 69 27.1 70.1 28 69.8 29 70 29.3 71 30 72 29.4 73 29.2 74 29.6 76 31.3 79 30.2 80 30.2 81 30.5 82 31.1 83.1 32 86 35 87 35.7 91 37.1 97 39.6 112 44.6 115.2 46 121 49.1 125 51.8 129 54.7 139.5 63 143 65.5 147 68 160 75.1M30.2 -4 34 1.3 38 5 39.8 7 42.7 12 46.3 17 51 22.1 53.4 24 56 25.5 61 27.6 65.2 29 68 29.3 69 29.8 70 30.9 71 31.2 72 30.8 73 30.7 74 31.1 75.3 32 75.7 34 76.5 35 77 35.3 78 35.3 79 34.9 80 34.2 81 34.4 86 37.8 90 39 95 41.5 111.3 47 114 48.2 120 51.5 124 54.1 128 57.1 138 65.1 141 67.2 145 69.7 160 78M25.2 -4 27 -2.8 28 -1.7 30.5 3 31.4 4 34.4 6 37.5 9 39.3 12 41 17 41.9 19 43 20.9 44.5 23 46.3 25 49 27.2 51 28.4 55 30.2 61 32.2 67 33.5 71 34.7 73 34.7 76 36.5 79.2 37 83 38.2 85 39.2 87.3 40 94 43.5 100 45.6 104 47.4 111 49.6 113 50.5 116 52.1 122 55.9 126 58.6 135.2 66 139 68.7 142.5 71 160 80.9M6.5 -4 9 -3.7 15 -3.4 17 -3.1 20 -2 21.5 -1 22.4 0 23.6 2 26 3.4 29.5 6 32 8.4 33 9.9 33.6 11 39 24 40 25.4 42 27.3 44.5 29 48 31 55 34.1 61 36.3 67 38.3 73.1 40 91 44.5 97.2 47 103.4 50 107.1 51 110 52.1 112 53 123 59.6 136.9 70 141 72.7 160 83.9M-3.9 -4 0 -2.6 11 0.2 16 0.7 17 1 19 2.1 21 3.4 25.1 7 26.7 9 28 11.1 28.9 13 29.5 15 31.3 22 32.2 24 33.5 26 35.2 28 37 29.7 41 32.4 45 34.6 49 36.4 54 38.2 68 42.8 81 46.5 95.1 50 102 52.4 110 55.7 114 58.1 121 61.4 123 62.7 132 69.2 138 73.3 160 86.9M-4 -1.1 -1 -0.2 4 0.9 7.4 2 9.6 3 15 6.4 19.4 10 21 11.7 23 15 24.2 18 25.1 21 25.9 25 26.6 27 27.8 29 29.4 31 31.4 33 39.1 39 42 40.1 55 43.6 72 49.2 89.7 54 102 57.7 120.1 64 135 73.5 152.1 85 160 89.8M-4 1.7 4.2 3 7 4.1 9 5.4 11.7 8 13 10 13.9 12 14.5 14 15.1 20 15.9 26 18 34.3 19 36.1 20 36.7 81 55.2 106 62 113 64.5 121 67.9 128 71.6 133 74.5 138.3 78 149 86.1 155.3 90M-4 4.7 4 6.3 7.1 8 9.1 10 10 11.4 11.1 14 11.4 16 11.8 25 12.2 29 12.8 33 13.3 35 14 37 15 38.6 16 39.7 18 41.1 20 41.9 42 47.3 98 62.8 109 66.5 120 71.1 130 76.1 135 79.1 141 83.2 147 87.8 150.4 90M-4 7.8 -1 8.7 3 9.5 4.1 10 5.5 11 7.1 13 7.6 14 8.2 17 9 32.1 9.5 35 10 37 11.3 40 13 42.4 15 44.2 17 45.4 19 46.2 21 46.7 33 49.1 56 54.7 61 56.1 83 63.5 101 68.1 106 69.5 111 71.2 121 75.2 132 80.6 140 85.5 146 90M-4 10.9 2.5 13 4 14.4 4.7 16 5.4 20 5.7 33 6.1 36 7.2 40 8.1 42 9.3 44 12 47.3 14 49 18 51.5 22 53 31.3 55 39 56.3 54.6 58 60 59.1 64 60.4 79 66.7 83 68 88 69.4 103 72.8 108 74.1 112 75.4 117 77.3 125 80.7 134.3 85 137 86.5 141.8 90M-4 13.9 0 15.1 1.2 16 2 17.4 2.5 21 2.3 32 2.5 35 3.4 40 5 44.3 7.1 48 9 50.4 11 52.5 13 54.2 17 56.7 19 57.6 21 58.1 23 58.5 31 59.3 56 62.6 59 63.2 66 65.5 82 71.6 86 72.7 105 76.9 110 78.2 115.4 80 128.3 85 135 88.4 137.5 90M-4 17.9 -2.4 19 -1.8 20 -1.6 21 -1.4 23 -1.4 32 -1.3 35 -0.9 38 -0.2 41 1.5 46 4 50.6 7.4 55 11 58.4 15 61.1 19.3 63 23 63.9 50 66.5 56 67.3 60 68.1 64 69.2 79 74.5 83 75.7 88 76.9 104 80.2 109 81.4 114.3 83 125 86.6 128.4 88 132.3 90M-4 42.3 -1.9 48 -0.4 51 1 53.4 4.5 58 8.6 62 11 63.8 15 66.3 19 68 23 68.9 33 69.6 43 70.5 51 71.4 58 72.5 68 74.8 82 78.7 113 85.3 126.1 90M-4 52.8 -0.6 58 3 62.3 5 64.2 10 68.2 13 70 18 72.3 20.3 73 24 73.6 40 74.9 58 77.1 94 83.5 104 85 114 88.3 118.5 90M-4 60.1 -1.6 63 1 65.8 6 70.1 9 72.2 12 74 15 75.5 18 76.7 21 77.6 25 78.4 56 80.8 71 82.4 80 83.6 89 85.2 103 86.8 104 87.1 111.8 90M-4 66.1 -1 69.1 2 71.7 7 75.3 13 78.6 16.3 80 22 81.8 26 82.4 52 83.9 79.6 86 91 87.7 99 88.5 102.3 89 105.5 90" fill="none" stroke="#2c4a44" stroke-opacity=".3" stroke-width=".42"/></g>
<clipPath id="cp10"><polygon points="0,0 25.9,0 152.8,85.1 25,85.1 16.8,17.1 0,17.1"/></clipPath>
<clipPath id="cp11"><polygon points="0,0 25.9,0 152.8,85.1 25,85.1 16.8,17.1 0,17.1"/></clipPath>
<g id="t11"><rect x="80" y="50" width="114.5" height="39.5" fill="#7cf8e9"/>
<path d="M119.5 50.5 121.5 50.3 124 50.4 126.5 51 128.5 51.9 140.3 59.5 147 64.2 152 66.6 167 67.4 177 68.4 182 69.2 188 70.3 190 70.9 192 71.8 194.5 73.5 194.5 89.5 80 89.5 80 65.2 106.6 65 106.9 62.5 107.6 60 108.8 57.5 110.3 55.5 112.4 53.5 114.5 52.1 117 51.1 119.5 50.5Z" fill="#80f8d8"/>
<path d="M119 54.4 121 54.1 123 54.2 125 54.6 127 55.4 138 62.6 145 67.4 148.5 69.2 151 70.3 166 71.1 174.5 71.9 183.5 73.3 187.5 74.1 189.5 74.8 192.2 76.5 193.5 77.8 194.5 79.2 194.5 89.5 80 89.5 80 65.2 110.4 65 110.6 63 111.1 61.5 112 59.6 113 58.2 114.2 57 115.5 56 117 55.1 119 54.4Z" fill="#80f8c1"/>
<path d="M120.5 58 123 58 125.5 58.9 143 70.7 147 72.7 150 74 154 74.4 166.5 75 173 75.6 182 76.9 186.5 77.8 188 78.3 189.8 79.5 191.1 81 192.1 83 192.4 85 194.5 85.1 194.5 89.5 80 89.5 80 65.2 114.2 65 114.8 62.5 116 60.5 118 58.9 120.5 58Z" fill="#80f8a9"/>
<path d="M120.5 61.9 122 61.7 123.5 62.1 141 73.9 145 76 148 77.3 150 77.8 152.5 78.1 165.5 78.7 172 79.3 178.5 80.1 186 81.6 187 82.1 187.9 83 188.4 84 188.6 85 194.5 85.2 194.5 89.5 80 89.5 80 65.2 109 65.2 118 65 118.3 64 118.9 63 119.5 62.4 120.5 61.9Z" fill="#81f892"/>
<path d="M80.5 65.3 121.5 65.3 122.5 65.8 125 67.7 125.5 67.8 128 69.8 128.5 69.8 131 71.7 131.5 71.8 134.5 74.2 135 74.3 137.5 76.2 138 76.3 139 77.2 140.5 77.9 141.5 78.7 142 78.7 146 80.7 147.5 81.2 149.5 81.7 153.5 81.8 155 82.2 165 82.3 165.5 82.6 170.5 82.8 172 83.2 174 83.3 175 83.4 175.5 83.7 177.5 83.8 179 84.2 181 84.3 181.5 84.6 183 84.8 184.5 85.2 194.5 85.2 194.5 89.5 80 89.5 80 65.3 80.5 65.3Z" fill="#85f883"/><path d="M80 65.2 106.6 65 106.8 63 107.2 61 108 59.1 109.5 56.5 112 53.8 113.5 52.7 116.5 51.2 118.5 50.6 120.5 50.3 122.5 50.3 124.5 50.5 126.5 51 129.7 52.5 147.5 64.5 152 66.6 171 67.7 182.5 69.2 188.7 70.5 190.5 71.1 192.3 72 194.5 73.5M80 65.2 110.4 65 110.5 63.5 111.5 60.5 113.2 58 114.5 56.7 117 55.1 118.5 54.6 120 54.2 123 54.2 124.8 54.5 127.5 55.6 145.1 67.5 151 70.3 166.5 71.2 172 71.6 179.5 72.6 185.5 73.7 188.5 74.4 190 75.1 191.5 76 192.7 77 194.5 79.2M80 65.2 114.2 65 114.8 62.5 116 60.5 117.1 59.5 119 58.4 120.5 58 122 57.9 123.5 58.1 125.7 59 143 70.7 149 73.6 150.5 74.1 153 74.3 165 74.9 171.5 75.4 179 76.4 185.5 77.6 187.5 78.1 189.5 79.2 190.5 80.2 191.7 82 192.5 85 194.5 85.1M80 65.2 118 65 118.3 64 118.9 63 119.5 62.4 120.5 61.9 121.5 61.7 122.5 61.8 123.5 62.1 142.5 74.8 148.5 77.5 150 77.8 152.5 78.1 168.5 78.9 179.5 80.3 186 81.6 187 82.1 188.2 83.5 188.6 85 194.5 85.2M80 65.3 121.5 65.3 125 67.7 125.5 67.8 128 69.8 128.5 69.8 131 71.7 131.5 71.8 134.5 74.2 135 74.3 137.5 76.2 141.5 78.7 142 78.7 146 80.7 147.5 81.2 150 81.7 154 81.9 155 82.2 165 82.3 165.5 82.6 170.5 82.8 175.5 83.7 178 83.8 179 84.2 181 84.3 181.5 84.6 185 85.2 194.5 85.2" fill="none" stroke="#2c4a44" stroke-opacity=".3" stroke-width=".42"/></g>
<clipPath id="ctp11"><polygon points="123.5,64.6 153.9,64.6 184.8,85.1 152.8,85.1"/></clipPath>
<g id="fb3"><rect x="-4" y="-4" width="164" height="94" fill="#79d1f8"/>
<path d="M-3 -4 34.7 -4 38 -0.2 41.8 5 43 6.4 50 12.9 56.6 18 59.5 21 65.7 28 68 30.1 72.5 33 77 35 83 37.1 84 37 85 36.4 86 36.3 87.3 37 87.2 38 86 38.2 84.4 38 84 37.2 83.5 39 83.7 40 84.4 41 85 41.4 86 41.7 87 41.6 88.2 41 89 40.1 92.1 43 101 49.6 103.4 51 127 62.4 160 75.4 160 90 -4 90 -4 -4 -3 -4Z" fill="#7ce8f8"/>
<path d="M-3 -4 31 -4 36.7 2 40 7 40.9 8 45 11.6 49 15.9 51.6 18 53.5 20 61 30.6 63 32.9 64.3 34 67 35.7 71 37.6 80 40.9 83 42.2 87.8 45 94 49.5 100 53.3 109 58.5 120 64.3 125 66.5 144 73.3 160 79.6 160 90 -4 90 -4 -4 -3 -4Z" fill="#7cf5ee"/>
<path d="M-3 -4 27 -4 35 3.6 37 6 38.9 9 43.1 13 47.3 18 49.3 21 52 27.1 55 33 57.4 36 59.9 38 65 40.8 75 44.4 80 46.4 84 48.3 99 57.2 116 68 139 75.6 149 79.4 160 83.8 160 90 -4 90 -4 -4 -3 -4Z" fill="#7ff8de"/>
<path d="M-3 -4 21.8 -4 22 -3.9 26.4 -1 29.5 2 33 4.9 36 7.9 36.7 9 38.5 11 40 13 41.8 16 43.7 20 44.6 23 46 29.1 47 32.2 48.2 35 50.1 38 52 39.8 54 41.3 57 43.1 61 45 68 47.4 77 50.1 87 54.9 93 58.1 99.5 62 105.7 66 112 70.5 114 71.6 117 72.7 127 75.7 135 78.3 144 81.5 154 85.4 160 87.9 160 90 -4 90 -4 -4 -3 -4Z" fill="#80f8c7"/>
<path d="M-3 -4 6.6 -4 9 -3.7 15 -3.3 17 -2.9 20 -1.5 25 1.7 29 5 30.9 7 33.1 10 34.8 13 35.7 15 37.7 21 40.7 34 42.1 38 43.3 40 44.9 42 46.9 44 49.8 46 53 47.6 56.8 49 65 51.6 74 54.1 79 56 91 62 95 64.2 102 68.6 108 73.2 110 74.2 133 81.5 143 85.1 155.3 90 -4 90 -4 -4 -3 -4Z" fill="#80f8ac"/>
<path d="M-3 -3.6 1 -2.3 9 -0.3 11 0 15 0.3 16 0.5 18 1.5 21 3.4 23 5 25 7 26.5 9 27.7 11 29.4 15 32.2 25 34.1 35 35 38.1 36.5 41 38 43.2 39.6 45 42.1 47 46.1 49 53.5 52 73 58.6 78 60.6 90.9 67 94.6 69 99 72 101.6 74 103.8 76 105 76.7 107 77.4 115 79.3 123 81.8 134 85.7 145.4 90 -4 90 -4 -4 -3 -3.6Z" fill="#81f893"/>
<path d="M-3.8 -1 -0.3 0 5 1.1 9.7 3 12.9 5 15 6.7 18.3 10 19.9 12 21.1 14 22.8 18 25.4 26 26.8 34 28.3 38 30.6 42 32.1 44 34.9 47 38 49.4 40 50.6 44 52.4 68 61 75 63.8 82 66.9 86 68.9 89.5 71 100.9 79 102 79.6 104 80.3 110 81.3 114 82.3 123 85.4 135.4 90 -4 90 -4 -1.1 -3.8 -1Z" fill="#85f883"/>
<path d="M-3 1.9 3 2.7 6.8 4 9 5.4 10.8 7 12.4 9 13.5 11 14.2 13 14.8 16 14.5 30 14.6 34 15 37 15.9 41 17 43.8 18.2 46 20 48.1 21.7 49 54 61 71 67 78.5 70 82.8 72 86.5 74 92 77.7 97 81.7 99 82.8 103 83.7 108 84.1 110 84.4 115 86 125.6 90 -4 90 -4 1.7 -3 1.9Z" fill="#93f879"/>
<path d="M-3 4.9 0 5.6 3 6 4 6.3 6 7.3 7.1 8 9 9.9 10 11.4 10.7 13 11.3 15 11.5 17 10.5 33 10.5 37 10.9 41 11.9 45 13.1 48 15 50.9 17.2 53 19 54.1 21 54.8 30 56.2 37.1 58 45 60.6 53.7 64 62.7 68 74 73.7 84 79.3 93 84.8 95 85.7 100 86.9 109 87.9 112 88.7 115.9 90 -4 90 -4 4.7 -3 4.9Z" fill="#a2f873"/>
<path d="M-3.3 8 3 9.5 4 9.9 6 11.5 7 12.8 7.6 14 8.1 16 8.3 20 8 24 6.9 35 6.8 39 7.2 43 8.1 47 9.7 51 12 54.4 14.7 57 17 58.5 20 59.8 22 60.3 30 61.3 36 62.6 46 65.5 56 69.1 67 73.8 79 79.6 89 84.8 92 87.1 94 88.3 96 89.1 99.2 90 -4 90 -4 7.8 -3.3 8Z" fill="#b0f870"/>
<path d="M-3.7 11 2 12.7 3 13.3 4 14.3 4.7 16 5.2 19 5.3 21 5.1 24 3.7 33 3.3 37 3.2 41 3.6 45 4.9 50 6.7 54 9 57.3 12 60.4 14 62 16 63.2 20 64.8 23 65.3 31 66.3 38 67.8 47 70.2 59 74.2 71 79 84 84.9 87.8 87 91.8 90 -4 90 -4 10.9 -3.7 11Z" fill="#bdf570"/>
<path d="M-3.9 14 -0.3 15 1 15.7 1.9 17 2.1 18 2.3 20 2 23 0.2 33 -0.4 38 -0.3 44 0.6 49 1.9 53 4 57.1 6.9 61 10 64.1 14 66.9 16 68 19 69.3 23 70.3 31 71.1 37 72.2 45 74.2 52 76.2 64 80.2 81 86.7 84 88.1 87.1 90 -4 90 -3.9 14Z" fill="#cef670"/>
<path d="M-3 19 -2.3 20 -2.1 21 -2.1 23 -4 34.3 -4 18.3 -3 19ZM-4 46 -3.1 50 -1.8 54 0 57.8 2 61 4.4 64 7.4 67 11 69.7 14 71.5 18 73.4 22 74.6 30 75.5 36 76.5 43 78 50 79.8 62 83.5 80 90 -4 90 -4 46Z" fill="#dff871"/>
<path d="M-3.7 59 -1.9 62 0.3 65 3 67.9 5 69.8 7.8 72 10.8 74 14 75.7 16.8 77 21 78.5 24 79.3 29 79.7 35 80.6 47 83.1 57 85.9 69.5 90 -4 90 -4 58.4 -3.7 59Z" fill="#f1f874"/>
<path d="M-3.6 66 0 70 4.5 74 10 77.6 15.1 80 19 81.4 22 82.1 29.6 83 36 84.2 50 87.8 57.8 90 -4 90 -4 65.4 -3.6 66Z" fill="#f9f871"/><path d="M34.7 -4 39 1.1 42.6 6 51 13.7 56 17.5 58 19.4 66 28.3 68 30.1 70 31.5 73 33.3 77 35 83 37.1 84 37 85 36.4 86 36.3 87.3 37 87.2 38 86 38.2 84.4 38 84 37.2 83.5 39 83.7 40 84.4 41 85 41.4 86 41.7 87 41.6 88.2 41 89 40.1 91 42.1 102 50.3 126.1 62 160 75.4M31 -4 36.7 2 40 7 41 8.1 45.4 12 48.1 15 52 18.4 53.5 20 61.3 31 63.1 33 66 35.2 72 38 81 41.3 83 42.2 88 45.1 93 48.8 100 53.3 108.2 58 122 65.3 149 75.2 160 79.6M27 -4 35 3.6 36.2 5 39 9.1 41.1 11 45 15.1 48 19 49.3 21 52 27.1 54.4 32 55.7 34 58 36.5 59.9 38 65 40.8 74.1 44 81 46.8 88.8 51 105.1 61 116 68 137.2 75 145.4 78 160 83.8M21.8 -4 26.4 -1 30 2.4 33.1 5 36 8 37 9.4 39.3 12 42.3 17 43.7 20 44.3 22 45.7 28 46.6 31 47.7 34 48.7 36 50.1 38 51.1 39 53 40.6 55.1 42 60 44.5 63.8 46 78 50.5 81.1 52 94 58.7 99.5 62 105.7 66 112 70.5 114 71.6 116 72.4 130 76.6 137.1 79 145.2 82 160 87.9M6.6 -4 9 -3.7 15 -3.3 17 -2.9 19.1 -2 26 2.5 29 5 31 7.2 33.1 10 34.8 13 36.8 18 38 22.3 41 35 41.7 37 42.6 39 44 41 47 44 49 45.5 52 47.1 55 48.4 66.3 52 75 54.4 80 56.5 93 63 97 65.4 101.1 68 108 73.2 109.5 74 112.2 75 127 79.5 134.5 82 142.6 85 155.3 90M-3.9 -4 0 -2.6 11 0 15 0.3 16 0.5 17.2 1 21 3.4 23 5 25 7 26.5 9 27.7 11 28.7 13 29.7 16 32.7 27 34.1 35 35.4 39 36.5 41 39 44.4 41 46.2 43 47.5 48 49.8 54 52.2 75 59.3 78 60.6 93 68.1 99 72 104 76.1 105.7 77 116 79.6 123 81.8 131 84.6 145.4 90M-4 -1.1 -1 -0.2 4 0.8 7.5 2 9.7 3 13 5.1 16.4 8 18.3 10 20 12.2 22 16 25.4 26 26.8 34 28.8 39 31.3 43 33 45.1 35 47.1 37.4 49 41 51.1 43.1 52 69 61.4 81 66.4 85 68.4 88 70.1 92 72.7 101 79.1 103 80 106 80.7 110 81.3 113 82 118 83.6 135.4 90M-4 1.7 4.2 3 7 4.1 10 6.3 11.7 8 13 10 13.9 12 14.5 14 14.8 16 14.5 32 14.7 35 15.2 38 16 41.2 17.1 44 18.2 46 20 48.1 22 49.1 76 68.9 79 70.2 84 72.6 86.5 74 92.4 78 98 82.3 99.5 83 105 83.9 109 84.2 112 85 125.6 90M-4 4.7 0 5.6 3 6 5.5 7 7.1 8 9.1 10 10 11.4 10.7 13 11.4 16 11.5 18 10.5 33 10.7 39 11.1 42 12.2 46 13.1 48 15.1 51 17.2 53 19 54.1 21 54.8 30 56.2 34 57.1 42 59.6 48.7 62 56.1 65 70 71.6 79 76.4 94 85.3 96 86 99 86.7 109.6 88 115.9 90M-4 7.8 -1 8.7 3 9.5 4.1 10 5.5 11 6.4 12 7.6 14 8.2 17 8.3 20 8.1 23 7 34 6.9 40 7.2 43 7.8 46 8.4 48 10.3 52 11.7 54 13 55.5 14.7 57 18 59 20 59.8 22 60.3 32 61.7 36 62.6 45 65.2 56 69.1 69 74.7 77 78.5 89.3 85 93.4 88 97 89.4 99.2 90M-4 10.9 2.5 13 4 14.3 4.4 15 5.2 19 5.3 21 5.1 24 3.6 34 3.3 37 3.4 43 3.8 46 5 50.2 7 54.4 9.6 58 13 61.2 15 62.6 19 64.5 23 65.3 30 66.1 39 68 50 71.1 58.4 74 72 79.4 85 85.4 87 86.5 91.8 90M-4 14 0 15.1 1.3 16 1.9 17 2.1 18 2.3 20 2.2 22 0 34 -0.3 37 -0.4 43 0 46.2 0.6 49 1.5 52 3.4 56 6 60 8 62.2 10 64.1 14.1 67 16 68 20 69.6 24 70.4 29 70.8 33 71.4 39 72.7 51 75.9 58 78.1 65 80.6 82 87.2 84 88.1 87.1 90M-4 18.3 -2.9 19 -2.3 20 -2.1 21 -2.1 23 -4 34.3M-4 45.7 -2.9 51 -1.8 54 -0.4 57 2 61 4 63.5 8 67.5 12 70.4 15 72.1 18 73.4 22 74.6 32 75.8 37 76.7 43.1 78 50 79.8 57 81.9 65 84.6 80 90M-4 58.4 -2.5 61 -0.4 64 2 66.9 4.1 69 7 71.4 10 73.5 13 75.2 16 76.7 20 78.2 24 79.3 29 79.7 35 80.6 41 81.7 48 83.4 57 85.9 69.5 90M-4 65.4 0 70 4.5 74 10 77.6 15.1 80 19 81.4 22 82.1 29.6 83 36 84.2 50 87.8 57.8 90" fill="none" stroke="#2c4a44" stroke-opacity=".3" stroke-width=".42"/></g>
<clipPath id="cp12"><polygon points="0,0 25.9,0 121.1,63.8 94.3,85.1 25,85.1 16.8,17.1 0,17.1"/></clipPath>
<g id="t12"><rect x="80" y="50" width="114.5" height="39.5" fill="#7cf8e9"/>
<path d="M91.5 63.9 94 63.8 113.5 64.9 136 65.8 143.5 66.7 151 68.2 156 69.6 158.5 70.5 161 72 162.8 73.5 164.8 76 166.1 78.5 166.9 81 167.3 84 194.5 84.2 194.5 89.5 80 89.5 80 72 82.1 69 84.9 66.5 88 64.8 91.5 63.9Z" fill="#80f8d8"/>
<path d="M91 67.9 94 67.6 114 68.7 135 69.6 141.5 70.3 148.5 71.5 156 73.6 157.9 74.5 159.5 75.6 161.2 77.5 162.4 79.5 163.2 81.5 163.5 84 194.5 84.2 194.5 89.5 80 89.5 80 78.5 82.1 78.5 82.4 76.5 83 74.5 84.1 72.5 85.5 70.9 88 69 91 67.9Z" fill="#80f8c1"/>
<path d="M92.5 71.5 134 73.3 138.5 73.7 144.5 74.6 150.9 76 154.5 77.1 156 77.8 157.5 79 158.7 80.5 159.3 82 159.7 84 194.5 84.2 194.5 89.5 80 89.5 80 78.6 85.9 78.5 86.5 76 88 73.8 90 72.3 92.5 71.5Z" fill="#80f8a9"/>
<path d="M92.5 75.3 93.5 75.2 113 76.3 131.5 77 139.5 77.7 147.5 79 153.5 80.8 154.5 81.4 155.1 82 155.7 83 155.9 84 165 84.2 194.5 84.2 194.5 89.5 80 89.5 80 78.7 89.7 78.5 90 77.5 90.6 76.5 91.5 75.8 92.5 75.3Z" fill="#81f892"/>
<path d="M80.5 78.8 92.5 78.8 94 79.1 101.5 79.3 102.5 79.4 103 79.7 104 79.6 110 79.8 111.5 80.2 123.5 80.4 124 80.7 126.5 80.6 134.5 80.8 135 81.1 139.5 81.3 140 81.6 142 81.8 143 82.2 145 82.3 145.5 82.6 147 82.8 150.5 83.8 151 83.8 152 84.3 194.5 84.3 194.5 89.5 80 89.5 80 78.8 80.5 78.8Z" fill="#85f883"/>
<path d="M80.5 78.8 89.7 79 90 80.5 90.6 81.5 91.5 82.2 93 82.8 113 83.9 135.5 84.9 139.5 85.3 145 86.3 152 88.1 153.5 87.8 154.8 87 155.5 86 155.9 84.5 165 84.3 194.5 84.3 194.5 89.5 80 89.5 80 78.8 80.5 78.8Z" fill="#94f878"/><path d="M80 72 81.6 69.5 83 68 84.5 66.8 87.6 65 89.5 64.3 91.5 63.9 93.5 63.8 97 64 138 66 147.5 67.4 151.5 68.3 158 70.3 159.5 71 162.5 73.2 164.8 76 166.5 79.4 166.9 81 167.3 84 194.5 84.2M80 78.5 82.1 78.5 82.7 75.5 83.3 74 84.1 72.5 86 70.4 87.5 69.3 89.1 68.5 92 67.7 93.5 67.6 136 69.7 144 70.6 148.6 71.5 156 73.6 157.5 74.3 160 76.1 161.2 77.5 162.2 79 163.3 82 163.5 84 194.5 84.2M80 78.6 85.9 78.5 86.2 77 87 75 88 73.8 89 72.9 91 71.8 92.5 71.5 94 71.4 137 73.5 146 74.9 150 75.7 154.5 77.1 156.5 78.1 157.5 79 159 81.1 159.5 82.5 159.7 84 194.5 84.2M80 78.7 89.7 78.5 90 77.5 90.6 76.5 91.5 75.8 92.5 75.3 93.5 75.2 109.5 76.1 131.6 77 139.5 77.7 147.3 79 149.5 79.5 153.5 80.8 154.5 81.4 155.1 82 156 84 194.5 84.2M80 78.8 93 78.8 94 79.1 101.5 79.3 103.5 79.6 110 79.8 111.5 80.2 123.7 80.5 124 80.7 134.5 80.8 135 81.1 139.5 81.3 140 81.6 141.5 81.8 143 82.2 145 82.3 145.5 82.6 147.5 82.9 152.5 84.3 194.5 84.3M80 78.8 89.7 79 89.8 80 90.3 81 91 81.9 92.5 82.7 93.5 82.8 117 84.1 129.6 84.5 138 85.1 145.5 86.4 152 88.1 153 88 154 87.6 154.8 87 155.7 85.5 156 84.5 194.5 84.3" fill="none" stroke="#2c4a44" stroke-opacity=".3" stroke-width=".42"/></g>
<clipPath id="ctp12"><polygon points="121.1,63.8 152.8,85.1 94.3,85.1"/></clipPath>
<g id="fb3r3"><rect x="-4" y="-4" width="164" height="94" fill="#79d1f8"/>
<path d="M-3 -4 34.7 -4 38 -0.2 41.8 5 43 6.4 50 12.9 56.6 18 59.5 21 65.7 28 68 30.1 72.5 33 77 35 83 37.1 84 37 85 36.4 86 36.3 87.3 37 87.2 38 86 38.2 84.4 38 84 37.2 83.5 39 83.7 40 84.4 41 85 41.4 86 41.7 87 41.6 88.2 41 89 40.1 92.1 43 101 49.6 103.4 51 127 62.4 160 75.4 160 90 -4 90 -4 -4 -3 -4Z" fill="#7ce8f8"/>
<path d="M-3 -4 31 -4 36.7 2 40 7 40.9 8 45 11.6 49 15.9 51.6 18 53.5 20 61 30.6 63 32.9 64.3 34 67 35.7 71 37.6 80 40.9 83 42.2 87.8 45 94 49.5 100 53.3 109 58.5 120 64.3 125 66.5 144 73.3 160 79.6 160 90 -4 90 -4 -4 -3 -4Z" fill="#7cf5ee"/>
<path d="M-3 -4 27 -4 35 3.6 37 6 38.9 9 43.1 13 47.3 18 49.3 21 52 27.1 55 33 57.4 36 59.9 38 65 40.8 75 44.4 80 46.4 84 48.3 99 57.2 116 68 139 75.6 149 79.4 160 83.8 160 90 -4 90 -4 -4 -3 -4Z" fill="#7ff8de"/>
<path d="M-3 -4 21.8 -4 22 -3.9 26.4 -1 29.5 2 33 4.9 36 7.9 36.7 9 38.5 11 40 13 41.8 16 43.7 20 44.6 23 46 29.1 47 32.2 48.2 35 50.1 38 52 39.8 54 41.3 57 43.1 61 45 68 47.4 77 50.1 87 54.9 93 58.1 99.5 62 105.7 66 112 70.5 114 71.6 117 72.7 127 75.7 135 78.3 144 81.5 154 85.4 160 87.9 160 90 -4 90 -4 -4 -3 -4Z" fill="#80f8c7"/>
<path d="M-3 -4 6.6 -4 9 -3.7 15 -3.3 17 -2.9 20 -1.5 25 1.7 29 5 30.9 7 33.1 10 34.8 13 35.7 15 37.7 21 40.7 34 42.1 38 43.3 40 44.9 42 46.9 44 49.8 46 53 47.6 56.8 49 65 51.6 74 54.1 79 56 91 62 95 64.2 102 68.6 108 73.2 110 74.2 133 81.5 143 85.1 155.3 90 -4 90 -4 -4 -3 -4Z" fill="#80f8ac"/>
<path d="M-3 -3.6 1 -2.3 9 -0.3 11 0 15 0.3 16 0.5 18 1.5 21 3.4 23 5 25 7 26.5 9 27.7 11 29.4 15 32.2 25 34.1 35 35 38.1 36.5 41 38 43.2 39.6 45 42.1 47 46.1 49 53.5 52 73 58.6 78 60.6 90.9 67 94.6 69 99 72 101.6 74 103.8 76 105 76.7 107 77.4 115 79.3 123 81.8 134 85.7 145.4 90 -4 90 -4 -4 -3 -3.6Z" fill="#81f893"/>
<path d="M-3.8 -1 -0.3 0 5 1.1 9.7 3 12.9 5 15 6.7 18.3 10 19.9 12 21.1 14 22.8 18 25.4 26 26.8 34 28.3 38 30.6 42 32.1 44 34.9 47 38 49.4 40 50.6 44 52.4 68 61 75 63.8 82 66.9 86 68.9 89.5 71 100.9 79 102 79.6 104 80.3 110 81.3 114 82.3 123 85.4 135.4 90 -4 90 -4 -1.1 -3.8 -1Z" fill="#86f882"/>
<path d="M-3 1.9 3 2.7 6.8 4 9 5.4 10.8 7 12.4 9 13.5 11 14.2 13 14.8 16 14.5 30 14.6 34 15 37 15.9 41 17 43.8 18.2 46 20 48.1 21.7 49 54 61 71 67 78.5 70 82.8 72 86.5 74 92 77.7 97 81.7 99 82.8 103 83.7 108 84.1 110 84.4 115 86 125.6 90 -4 90 -4 1.7 -3 1.9Z" fill="#97f877"/>
<path d="M-3 4.9 0 5.6 3 6 4 6.3 6 7.3 7.1 8 9 9.9 10 11.4 10.7 13 11.3 15 11.5 17 10.5 33 10.5 37 10.9 41 11.9 45 13.1 48 15 50.9 17.2 53 19 54.1 21 54.8 30 56.2 37.1 58 45 60.6 53.7 64 62.7 68 74 73.7 84 79.3 93 84.8 95 85.7 100 86.9 109 87.9 112 88.7 115.9 90 -4 90 -4 4.7 -3 4.9Z" fill="#a7f872"/>
<path d="M-3.3 8 3 9.5 4 9.9 6 11.5 7 12.8 7.6 14 8.1 16 8.3 20 8 24 6.9 35 6.8 39 7.2 43 8.1 47 9.7 51 12 54.4 14.7 57 17 58.5 20 59.8 22 60.3 30 61.3 36 62.6 46 65.5 56 69.1 67 73.8 79 79.6 89 84.8 92 87.1 94 88.3 96 89.1 99.2 90 -4 90 -4 7.8 -3.3 8Z" fill="#b6f670"/>
<path d="M-3.7 11 2 12.7 3 13.3 4 14.3 4.7 16 5.2 19 5.3 21 5.1 24 3.7 33 3.3 37 3.2 41 3.6 45 4.9 50 6.7 54 9 57.3 12 60.4 14 62 16 63.2 20 64.8 23 65.3 31 66.3 38 67.8 47 70.2 59 74.2 71 79 84 84.9 87.8 87 91.8 90 -4 90 -4 10.9 -3.7 11Z" fill="#c7f570"/>
<path d="M-3.9 14 -0.3 15 1 15.7 1.9 17 2.1 18 2.3 20 2 23 0.2 33 -0.4 38 -0.3 44 0.6 49 1.9 53 4 57.1 6.9 61 10 64.1 14 66.9 16 68 19 69.3 23 70.3 31 71.1 37 72.2 45 74.2 52 76.2 64 80.2 81 86.7 84 88.1 87.1 90 -4 90 -3.9 14Z" fill="#dbf870"/>
<path d="M-3 19 -2.3 20 -2.1 21 -2.1 23 -4 34.3 -4 18.3 -3 19ZM-4 46 -3.1 50 -1.8 54 0 57.8 2 61 4.4 64 7.4 67 11 69.7 14 71.5 18 73.4 22 74.6 30 75.5 36 76.5 43 78 50 79.8 62 83.5 80 90 -4 90 -4 46Z" fill="#eff874"/>
<path d="M-3.7 59 -1.9 62 0.3 65 3 67.9 5 69.8 7.8 72 10.8 74 14 75.7 16.8 77 21 78.5 24 79.3 29 79.7 35 80.6 47 83.1 57 85.9 69.5 90 -4 90 -4 58.4 -3.7 59Z" fill="#f9f871"/>
<path d="M-3.6 66 0 70 4.5 74 10 77.6 15.1 80 19 81.4 22 82.1 29.6 83 36 84.2 50 87.8 57.8 90 -4 90 -4 65.4 -3.6 66Z" fill="#fbe475"/><path d="M34.7 -4 39 1.1 42.6 6 51 13.7 56 17.5 58 19.4 66 28.3 68 30.1 70 31.5 73 33.3 77 35 83 37.1 84 37 85 36.4 86 36.3 87.3 37 87.2 38 86 38.2 84.4 38 84 37.2 83.5 39 83.7 40 84.4 41 85 41.4 86 41.7 87 41.6 88.2 41 89 40.1 91 42.1 102 50.3 126.1 62 160 75.4M31 -4 36.7 2 40 7 41 8.1 45.4 12 48.1 15 52 18.4 53.5 20 61.3 31 63.1 33 66 35.2 72 38 81 41.3 83 42.2 88 45.1 93 48.8 100 53.3 108.2 58 122 65.3 149 75.2 160 79.6M27 -4 35 3.6 36.2 5 39 9.1 41.1 11 45 15.1 48 19 49.3 21 52 27.1 54.4 32 55.7 34 58 36.5 59.9 38 65 40.8 74.1 44 81 46.8 88.8 51 105.1 61 116 68 137.2 75 145.4 78 160 83.8M21.8 -4 26.4 -1 30 2.4 33.1 5 36 8 37 9.4 39.3 12 42.3 17 43.7 20 44.3 22 45.7 28 46.6 31 47.7 34 48.7 36 50.1 38 51.1 39 53 40.6 55.1 42 60 44.5 63.8 46 78 50.5 81.1 52 94 58.7 99.5 62 105.7 66 112 70.5 114 71.6 116 72.4 130 76.6 137.1 79 145.2 82 160 87.9M6.6 -4 9 -3.7 15 -3.3 17 -2.9 19.1 -2 26 2.5 29 5 31 7.2 33.1 10 34.8 13 36.8 18 38 22.3 41 35 41.7 37 42.6 39 44 41 47 44 49 45.5 52 47.1 55 48.4 66.3 52 75 54.4 80 56.5 93 63 97 65.4 101.1 68 108 73.2 109.5 74 112.2 75 127 79.5 134.5 82 142.6 85 155.3 90M-3.9 -4 0 -2.6 11 0 15 0.3 16 0.5 17.2 1 21 3.4 23 5 25 7 26.5 9 27.7 11 28.7 13 29.7 16 32.7 27 34.1 35 35.4 39 36.5 41 39 44.4 41 46.2 43 47.5 48 49.8 54 52.2 75 59.3 78 60.6 93 68.1 99 72 104 76.1 105.7 77 116 79.6 123 81.8 131 84.6 145.4 90M-4 -1.1 -1 -0.2 4 0.8 7.5 2 9.7 3 13 5.1 16.4 8 18.3 10 20 12.2 22 16 25.4 26 26.8 34 28.8 39 31.3 43 33 45.1 35 47.1 37.4 49 41 51.1 43.1 52 69 61.4 81 66.4 85 68.4 88 70.1 92 72.7 101 79.1 103 80 106 80.7 110 81.3 113 82 118 83.6 135.4 90M-4 1.7 4.2 3 7 4.1 10 6.3 11.7 8 13 10 13.9 12 14.5 14 14.8 16 14.5 32 14.7 35 15.2 38 16 41.2 17.1 44 18.2 46 20 48.1 22 49.1 76 68.9 79 70.2 84 72.6 86.5 74 92.4 78 98 82.3 99.5 83 105 83.9 109 84.2 112 85 125.6 90M-4 4.7 0 5.6 3 6 5.5 7 7.1 8 9.1 10 10 11.4 10.7 13 11.4 16 11.5 18 10.5 33 10.7 39 11.1 42 12.2 46 13.1 48 15.1 51 17.2 53 19 54.1 21 54.8 30 56.2 34 57.1 42 59.6 48.7 62 56.1 65 70 71.6 79 76.4 94 85.3 96 86 99 86.7 109.6 88 115.9 90M-4 7.8 -1 8.7 3 9.5 4.1 10 5.5 11 6.4 12 7.6 14 8.2 17 8.3 20 8.1 23 7 34 6.9 40 7.2 43 7.8 46 8.4 48 10.3 52 11.7 54 13 55.5 14.7 57 18 59 20 59.8 22 60.3 32 61.7 36 62.6 45 65.2 56 69.1 69 74.7 77 78.5 89.3 85 93.4 88 97 89.4 99.2 90M-4 10.9 2.5 13 4 14.3 4.4 15 5.2 19 5.3 21 5.1 24 3.6 34 3.3 37 3.4 43 3.8 46 5 50.2 7 54.4 9.6 58 13 61.2 15 62.6 19 64.5 23 65.3 30 66.1 39 68 50 71.1 58.4 74 72 79.4 85 85.4 87 86.5 91.8 90M-4 14 0 15.1 1.3 16 1.9 17 2.1 18 2.3 20 2.2 22 0 34 -0.3 37 -0.4 43 0 46.2 0.6 49 1.5 52 3.4 56 6 60 8 62.2 10 64.1 14.1 67 16 68 20 69.6 24 70.4 29 70.8 33 71.4 39 72.7 51 75.9 58 78.1 65 80.6 82 87.2 84 88.1 87.1 90M-4 18.3 -2.9 19 -2.3 20 -2.1 21 -2.1 23 -4 34.3M-4 45.7 -2.9 51 -1.8 54 -0.4 57 2 61 4 63.5 8 67.5 12 70.4 15 72.1 18 73.4 22 74.6 32 75.8 37 76.7 43.1 78 50 79.8 57 81.9 65 84.6 80 90M-4 58.4 -2.5 61 -0.4 64 2 66.9 4.1 69 7 71.4 10 73.5 13 75.2 16 76.7 20 78.2 24 79.3 29 79.7 35 80.6 41 81.7 48 83.4 57 85.9 69.5 90M-4 65.4 0 70 4.5 74 10 77.6 15.1 80 19 81.4 22 82.1 29.6 83 36 84.2 50 87.8 57.8 90" fill="none" stroke="#2c4a44" stroke-opacity=".3" stroke-width=".42"/></g>
<clipPath id="cp13"><polygon points="0,0 25.9,0 121.1,64.3 94.5,85.1 25,85.1 16.8,17.1 0,17.1"/></clipPath>
<g id="t13"><rect x="80" y="50" width="114.5" height="39.5" fill="#7cf8e9"/>
<path d="M92.5 62.5 96.5 62.4 106 62.8 138.5 64.7 160 66.2 173.5 67.6 180 68.8 187 70.3 189 71 191 72 193 73.5 194.5 75 194.5 89.5 80 89.5 80 71.8 80.3 71 81.2 69.5 82.5 67.7 84 66.2 85.5 65 87.2 64 89 63.2 92.5 62.5Z" fill="#80f8d8"/>
<path d="M91.5 66.5 94 66.2 104.5 66.6 137 68.4 157.5 69.8 171.5 71.2 177 72.1 183.5 73.4 186.5 74.1 188.5 75 190.7 76.5 192.5 78.5 193.6 80.5 194.3 83 194.5 84.5 194.5 89.5 80 89.5 80 77.5 82.6 77.5 82.8 75.5 83.2 74 84 72.2 85.1 70.5 86.5 69 88 67.9 89.5 67.1 91.5 66.5Z" fill="#80f8c1"/>
<path d="M94 70 106.5 70.5 154.5 73.4 168 74.6 177 75.9 185 77.7 186.5 78.2 187.7 79 189 80.2 189.8 81.5 190.4 83 190.7 85 194.5 85.1 194.5 89.5 80 89.5 80 77.6 86.4 77.5 86.6 76 87 74.7 87.6 73.5 88.5 72.4 89.5 71.5 91 70.6 92.5 70.1 94 70Z" fill="#80f8a9"/>
<path d="M93 73.9 94 73.8 104 74.1 140 76.2 160.5 77.7 172 78.9 177 79.8 184.5 81.5 185.5 82.1 186.3 83 186.8 84 186.9 85 194.5 85.2 194.5 89.5 80 89.5 80 77.7 90.2 77.5 90.4 76.5 91 75.3 92 74.4 93 73.9Z" fill="#81f892"/>
<path d="M80.5 77.7 93 77.7 94 77.6 105 77.8 105.5 78.1 113.5 78.4 114 78.7 121.5 78.9 122.5 78.8 123 79.1 124 79.2 131 79.3 132.5 79.7 139.5 79.8 140 80.1 146.5 80.3 148 80.7 153.5 80.8 155 81.2 160.5 81.3 161 81.6 165.5 81.8 166 82.1 169.5 82.3 171 82.7 173 82.8 174 83.2 176 83.4 176.5 83.7 178.5 83.8 181.5 84.7 183 84.9 183.5 85.2 194.5 85.2 194.5 89.5 80 89.5 80 77.7 80.5 77.7Z" fill="#85f883"/>
<path d="M80.5 77.8 90.3 78 90.7 79.5 91.5 80.4 92.5 81.1 93.5 81.4 104 81.7 131.5 83.3 159.5 85.2 170.5 86.4 183 88.8 184.5 88.6 185.5 88 186.4 87 186.9 85.5 194.5 85.3 194.5 89.5 80 89.5 80 77.8 80.5 77.8Z" fill="#94f878"/><path d="M80 71.8 81.5 69 82.7 67.5 85.5 65 87.2 64 89 63.2 91 62.7 93 62.4 95 62.4 107.5 62.9 138.5 64.7 164.5 66.6 172 67.4 177.5 68.3 188 70.6 191 72 192.5 73.1 194.5 75M80 77.5 82.6 77.5 83.1 74.5 83.6 73 85.1 70.5 87.5 68.2 89 67.4 90.5 66.8 93.5 66.2 96 66.2 118.5 67.4 162 70.2 173.5 71.5 185.5 73.9 188.5 75 190.1 76 192.1 78 193.1 79.5 193.8 81 194.2 82.5 194.5 84.7M80 77.6 86.4 77.5 86.6 76 87.1 74.5 88.5 72.4 90.5 70.9 93 70.1 100.5 70.2 124.6 71.5 156.5 73.5 168.5 74.6 173.5 75.3 185 77.7 187 78.5 189 80.2 190.1 82 190.6 83.5 190.7 85 194.5 85.1M80 77.7 90.2 77.5 90.4 76.5 90.9 75.5 91.5 74.8 93 73.9 94 73.8 105.5 74.2 128.5 75.5 159 77.5 172.5 79 184.5 81.5 185.5 82.1 186.3 83 187 85 194.5 85.2M80 77.7 93.5 77.7 94 77.6 105 77.8 105.5 78.1 113.7 78.5 114 78.7 121.5 78.9 122.5 78.8 123 79.1 129 79.3 132.5 79.7 139.5 79.8 140 80.1 153.5 80.8 155 81.2 160.5 81.3 161 81.6 164 81.8 166 82.1 169.5 82.3 171 82.7 176 83.4 176.5 83.7 178.5 83.8 181.5 84.7 184.5 85.2 194.5 85.2M80 77.8 90.3 78 90.5 79 91.1 80 92 80.8 93 81.2 94 81.4 102 81.6 128 83.1 158.5 85.1 171.5 86.5 183 88.8 184 88.7 185.5 88 186.4 87 186.9 85.5 194.5 85.3" fill="none" stroke="#2c4a44" stroke-opacity=".3" stroke-width=".42"/></g>
<clipPath id="ctp13"><polygon points="121.1,64.3 151,64.3 183.1,85.1 94.5,85.1"/></clipPath>
<g id="fc1"><rect x="-4" y="-4" width="164" height="94" fill="#7ef8df"/>
<path d="M-3 -3 0 -2.5 3 -2.4 17 -3.5 19.8 -4 30 -3.9 32 -2.6 33.7 -1 37.4 4 42 9.4 44.5 13 48 16.4 52 19.1 57.9 22 59.5 24 60 24.4 61 24.7 65 23.7 66 23.7 66.4 24 66.7 25 66.2 26 66.2 27 67 28.2 68 28.4 69.2 28 69.9 27 70 26.5 71 26.5 72.9 28 74 28.5 75.4 30 75.7 31 73.9 33 75 33.8 76 32.3 80 30.4 82 30.2 84 30.9 85.5 32 87 33.8 90 39 91 39.3 95 39.4 98 40.2 100 41.1 110 46.2 142.7 66 160 77 160 90 -4 90 -4 -3.3 -3 -3Z" fill="#80f8c8"/>
<path d="M-3.1 -2 1 -1.4 12 -1.9 18 -1.5 20 -1.7 23 -2.6 25 -2.9 27 -2.7 28.6 -2 30 -1 31.9 1 35.1 6 40.3 12 45 18 47.1 20 51 22.3 58 25.5 61 26.7 65 27.9 67 29.5 69 29.5 72 30.5 73 30.5 74 30.9 72.7 32 72.2 33 72.5 34 74 35.2 76 35.9 78 36.9 79 37.2 80.3 37 81.8 36 82 35.4 83 35.6 86 38 87 39.2 88 41 89 41.6 94 41.8 97.3 43 102 46 108 48.7 110.4 50 119 55.5 139.7 68 160 81 160 90 -4 90 -4 -2.2 -3.1 -2Z" fill="#80f8ad"/>
<path d="M-3.1 -1 0 -0.6 13 -0.6 15 -0.2 19 1.1 20 1.3 22 0.9 25 -0.3 26 -0.3 26.5 0 30 3.9 33.1 8 37.8 16 40.7 20 43 22.5 46 24.9 54 29.4 59.9 32 67 34.2 72 36.3 76.7 38 78 38.7 85 41 89 42.7 92 43.5 93.3 44 96.2 46 98 48 99 48.7 106 51.2 108 52.1 117 57.9 139.7 72 160 85 160 90 -4 90 -4 -1.1 -3.1 -1Z" fill="#80f893"/>
<path d="M-3 -0.1 12 0.5 14 1 16 1.9 19.3 4 21.9 6 24 8 27.6 12 34.2 22 35.8 24 39 27 44 30.4 50 33.6 59 37.6 82.4 46 87 47.5 90.3 49 95.3 51 106 54.6 128.8 69 153.3 85 160 88.9 160 90 -4 90 -4 -0.1 -3 -0.1Z" fill="#85f883"/>
<path d="M-3 0.9 0 0.8 6 1 12 1.9 15 3 17.6 5 19.3 7 20.6 10 22 15 23.4 23 24.8 27 26 28.9 27 29.8 30.2 32 33.9 34 38.2 36 48.7 40 55 41.9 66 44.3 72 46 85 51 105 58.3 109 60 114 62.9 120 67.2 146.6 85 155.1 90 -4 90 -4 0.9 -3 0.9Z" fill="#91f87a"/>
<path d="M-3 2 0 1.5 3 1.7 6 2.5 7.5 3 10 4.6 12.4 7 14.3 10 15.3 13 16 17.9 18.2 28 18.4 32 18.6 33 19 33.5 19.8 34 22 34.6 34 39 46 42.9 54 45.2 66 48.1 71 49.5 85 54.9 96 58.9 106.5 63 110 64.6 113 66.5 120 71.3 136.4 82 143.4 87 148.3 90 -4 90 -4 2.1 -3 2Z" fill="#a0f873"/>
<path d="M-3 3.3 1 3.1 2 3.2 5 4.1 7 5.1 9 6.5 10.5 8 11.9 10 13 12.3 13.7 15 15 31 15.4 33 16.2 35 17 35.9 18 36.7 21 38.1 41 44.8 53 48.4 65 51.5 71 53.3 84 58.4 96 62.7 104 66 109 68.3 112 70 120 75.4 135 85 142.2 90 -4 90 -4 3.4 -3 3.3Z" fill="#acf870"/>
<path d="M-3 4.9 2 5.3 5 6.2 6.5 7 8 8.2 9 9.2 10.3 11 11.3 13 11.9 16 12.6 30 13.2 34 13.9 36 15 37.7 16 38.8 18 40.4 21 41.9 37 47 52 51.6 70 56.8 84 62.3 99 67.8 105 70.5 111 73.6 120 79.5 130 85.6 136.6 90 -4 90 -4 4.9 -3 4.9Z" fill="#b8f670"/>
<path d="M-3 6.6 2 7.2 4 7.8 6 9 7 9.8 8.7 12 9.6 14 10 16 10.5 30 10.7 33 11.2 35 12 37.4 13.5 40 16 42.7 18 44.2 21 45.7 68 60 73 61.8 84 66.2 98 71.3 104 74 110 77.2 120 83.5 130.8 90 -4 90 -4 6.5 -3 6.6Z" fill="#c6f570"/>
<path d="M-3 8.4 2 9.2 4 9.9 6 11.5 7.1 13 7.9 15 8.2 17 8.5 21 8.6 32 9 35 9.5 37 10.7 40 12.5 43 15 45.7 17 47.2 19 48.4 21 49.2 42 55.4 64 62.6 97 74.8 102 77 108 80.1 124.6 90 -4 90 -4 8.2 -3 8.4Z" fill="#d6f870"/>
<path d="M-3 10.2 2 11.2 3 11.6 4 12.2 4.8 13 5.5 14 6.1 16 6.5 19 6.7 23 6.6 32 6.9 35 7.5 38 9 42 10.8 45 13 47.6 16 50 18 51.2 20 52 36 56.6 52.5 62 70 68.8 95.3 78 100 80 105 82.5 118.1 90 -4 90 -4 10 -3 10.2Z" fill="#e6f872"/>
<path d="M-3 12 2 13.3 3.1 14 3.8 15 4.4 17 4.8 20 4.9 23 4.6 33 5 37 5.8 40 7.3 44 9.1 47 12 50.4 15 52.8 18 54.5 21 55.7 35 59.4 51 64.8 56 66.7 70 72.9 95 81.7 102 84.7 111.7 90 -4 90 -4 11.8 -3 12Z" fill="#f3f873"/>
<path d="M-3 13.8 1 15 2 16 2.7 18 3 22 2.5 31 2.6 35 3.4 40 4.7 44 6.8 48 8.9 51 11 53.2 14 55.6 17 57.4 20 58.7 35 62.7 41 64.6 50 67.8 55.4 70 65 74.8 69 76.6 75 78.7 84 81.5 94.4 85 99 87 105.1 90 -4 90 -4 13.6 -3 13.8Z" fill="#fbf870"/>
<path d="M-3 15.9 -1 16.4 0 16.9 0.6 18 0.8 19 0.9 22 0.3 30 0.3 35 1 40 2.5 45 4.4 49 7 52.8 10 56 13 58.5 16 60.4 20 62.2 28 64 35.3 66 42 68.1 51 71.5 56 73.7 66 79.5 69 80.8 79 83.9 87 85.9 93 87.9 98 90 -4 90 -4 15.7 -3 15.9Z" fill="#fbe475"/>
<path d="M-3.6 19 -2.6 20 -2 22 -1.9 24 -2.2 32 -2.1 36 -1.3 41 -0.2 45 2 50 4.6 54 8 57.9 11.5 61 16 63.9 21 66.2 23 66.8 31 68.6 37 70.3 44 72.6 52 75.5 56 77.5 63 81.9 66 83.4 70 84.6 75 85.2 79 86.7 89.6 90 -4 90 -4 18.8 -3.6 19Z" fill="#fbce78"/>
<path d="M-3.8 42 -2.6 46 -1 49.8 0.7 53 3 56.3 6 59.8 9 62.6 12 65 16 67.5 19 69 22 70.1 35 73.3 50 78.1 58 81.2 69 86.3 75 87.8 80.8 90 -4 90 -4 41.2 -3.8 42Z" fill="#fbb878"/>
<path d="M-3.9 50 -2.3 53 -0.5 56 1.7 59 4.3 62 7 64.6 10 67 13 69.1 17 71.5 20 72.8 23 73.9 40 78.5 53 82.4 60.5 85 63 85.5 66 86.7 70 88.7 73.8 90 -4 90 -4 49.7 -3.9 50Z" fill="#fbad78"/>
<path d="M-3.7 56 -1.7 59 0.7 62 5.6 67 9 69.8 12 71.9 18 75.3 21 76.6 24 77.7 39 81.2 53 84.9 59 87.1 64 88.3 67.8 90 -4 90 -4 55.5 -3.7 56Z" fill="#fa9f78"/>
<path d="M-3.6 61 1 66.3 6.2 71 12 75.1 15.3 77 19 78.8 22 80.1 24.9 81 50 86.6 61 90 -4 90 -4 60.4 -3.6 61Z" fill="#f88f78"/>
<path d="M-3.8 65 1 70 6 74.2 11.8 78 18 81.2 21 82.4 24 83.4 33 85.2 48 88.7 52.8 90 -4 90 -4 64.8 -3.8 65Z" fill="#f87978"/><path d="M-4 -3.3 0 -2.5 2 -2.4 18 -3.6 19.8 -4M29.8 -4 32 -2.6 34.6 0 39.1 6 42 9.4 45 13.6 47 15.5 49 17.1 51.8 19 58 22.1 59.5 24 60 24.4 61 24.7 65 23.7 66 23.7 66.4 24 66.7 25 66.2 26 66.2 27 67 28.2 68 28.4 69.2 28 69.9 27 70 26.5 71 26.5 71.5 27 74.6 29 75.4 30 75.7 31 73.9 33 75 33.8 76 32.3 80 30.4 82 30.2 83 30.4 84.2 31 85.5 32 86.4 33 87.8 35 90 39 91 39.3 94 39.3 96 39.6 98 40.2 100 41.1 110 46.2 143 66.2 160 77M-4 -2.2 0 -1.5 3 -1.4 12 -1.9 18 -1.5 19 -1.6 25 -2.9 27 -2.7 28.6 -2 31 0 32.6 2 35.1 6 41 12.9 45 18 47.1 20 49 21.2 58 25.5 61 26.7 64 27.4 65.1 28 67 29.5 69 29.5 72 30.5 73 30.5 74 31 73 31.6 72.2 33 72.5 34 74 35.2 79 37.2 80.3 37 81.8 36 82 35.4 83 35.6 87 39.2 88 41 89 41.6 94 41.8 96 42.4 98 43.4 103 46.5 109 49.2 137 66.4 160 81M-4 -1.1 1 -0.6 13 -0.6 15 -0.2 19 1.1 20 1.3 22 0.9 25 -0.3 26 -0.3 26.5 0 28 1.5 32 6.5 34.4 10 37.1 15 40 19.2 42 21.5 43.5 23 47 25.5 57.4 31 63 33 67 34.2 78 38.7 88 42.3 93.3 44 96.2 46 98 48 99 48.7 107 51.6 109 52.7 116 57.3 133.4 68 160 85M-4 -0.1 11 0.4 13 0.7 16.2 2 21 5.3 24 8 26.8 11 29.6 15 35 23.1 36.7 25 41 28.5 45 31 48 32.7 57 36.8 65.5 40 88.1 48 95.3 51 106 54.6 132 71.1 152 84.2 160 88.9M-4 0.9 2 0.8 9 1.4 13 2.3 15 3 18 5.4 19.3 7 20.3 9 21 11.2 22 15 23.2 22 23.7 24 25 27.4 26.1 29 27.2 30 32 33 37 35.5 40.7 37 50 40.4 52 41.1 68 44.8 71 45.7 105 58.3 109.1 60 112 61.6 122 68.5 150 87.1 155.1 90M-4 2.1 0 1.5 4.5 2 8 3.3 10 4.6 12.4 7 14.3 10 15.3 13 16 18 18.4 29 18.4 32 18.6 33 19 33.5 20 34.1 22 34.6 31.1 38 44 42.3 52 44.6 67 48.3 71 49.5 99 60 107 63.2 110 64.6 113 66.5 138 83.1 144 87.4 148.3 90M-4 3.4 1 3.1 2 3.2 5 4.1 8.3 6 11 8.7 12.5 11 13.2 13 13.7 15 15.2 32 15.4 33 16.2 35 17.1 36 18.5 37 20 37.7 32.4 42 43 45.4 53 48.4 67 52.1 71 53.3 87 59.5 98 63.5 105 66.4 109 68.3 112 70 137 86.4 142.2 90M-4 4.9 2 5.3 4 5.8 7 7.4 9 9.2 10 10.5 11.3 13 11.8 15 12.6 31 13 33.3 14 36.1 15 37.7 16.2 39 19 41 21 41.9 43 48.9 69 56.5 100 68.2 105 70.5 112 74.2 136.6 90M-4 6.5 2 7.2 4.4 8 6 9 7.2 10 9 12.5 9.6 14 10 16 10.5 31 11.2 35 12.3 38 14.3 41 17 43.6 19 44.8 21 45.7 69 60.4 87 67.3 97.2 71 101 72.6 110 77.2 130.8 90M-4 8.2 3 9.5 4.1 10 5.5 11 7.1 13 7.6 14 8.2 17 8.5 21 8.5 31 8.8 34 9.2 36 10.7 40 11.8 42 13 43.6 16 46.5 18 47.9 20 48.8 22 49.5 45 56.4 62.3 62 71 65.1 86.5 71 97.5 75 105 78.5 110 81.3 124.6 90M-4 10 1.1 11 3 11.6 4 12.2 5.5 14 6 15.5 6.6 20 6.7 33 7 36 7.5 38 9 42 10.1 44 11.6 46 13 47.6 16 50 18 51.2 20.1 52 40.5 58 50 61.1 78.7 72 96 78.3 104.1 82 118.1 90M-4 11.8 2 13.3 3.1 14 3.8 15 4.6 18 4.8 20 4.7 34 5.5 39 7 43.3 9.1 47 12 50.4 14 52.1 16 53.4 20 55.3 30.1 58 45 62.7 53 65.5 70.2 73 88 79.1 96 82.1 100.5 84 104.4 86 111.7 90M-4 13.6 0 14.6 1 15 2 16 2.5 17 2.9 19 3 21 2.5 32 2.6 35 3 38 4 42.1 6 46.7 8.1 50 10 52.2 12 54.1 14 55.6 16.2 57 20 58.7 31 61.5 37 63.3 49 67.4 56 70.3 66 75.3 70 77 95 85.2 99.1 87 105.1 90M-4 15.7 -2 16.1 0.1 17 0.6 18 0.8 19 0.9 21 0.3 32 0.3 35 0.6 38 1.2 41 2.1 44 4 48.3 6.4 52 8 54 10 56 12.4 58 16 60.4 20 62.2 33 65.3 43 68.5 50 71.1 54 72.7 57 74.3 65 79 68 80.4 72 81.8 79.3 84 87.3 86 93 87.9 98 90M-4 18.8 -3 19.5 -2.6 20 -2 22 -2.2 33 -2.1 36 -1.7 39 -1.1 42 -0.2 45 2 50 5 54.5 7 56.9 9.1 59 11.5 61 15 63.4 18 64.9 21 66.2 23 66.8 32 68.9 37 70.3 43 72.2 53.1 76 57 78.1 63.1 82 66 83.4 69 84.4 75 85.2 81 87.3 89.6 90M-4 41.2 -2.2 47 -0.9 50 2 55 4 57.6 8.3 62 11 64.2 14 66.3 17 68 20 69.4 22 70.1 35 73.3 48 77.5 57.5 81 69 86.3 74 87.5 80.8 90M-4 49.7 -2.3 53 -0.5 56 1.7 59 4.3 62 7 64.6 10 67 13 69.1 17 71.5 20 72.8 23 73.9 40 78.5 53 82.4 60.5 85 63 85.5 66 86.7 70 88.7 73.8 90M-4 55.5 -1.7 59 0.7 62 5.6 67 9 69.8 12 71.9 18 75.3 21 76.6 24 77.7 39 81.2 53 84.9 59 87.1 64 88.3 67.8 90M-4 60.4 0.7 66 6.2 71 12 75.1 15.3 77 19 78.8 22 80.1 24.9 81 50 86.6 61 90M-4 64.8 1 70 6 74.2 11.8 78 17.5 81 21 82.4 24 83.4 33 85.2 48 88.7 52.8 90" fill="none" stroke="#2c4a44" stroke-opacity=".3" stroke-width=".42"/></g>
<clipPath id="cp20"><polygon points="0,0 25.9,0 152.8,85.1 25,85.1 16.8,17.1 0,17.1"/></clipPath>
<clipPath id="cp21"><polygon points="0,0 25.9,0 152.8,85.1 25,85.1 16.8,17.1 0,17.1"/></clipPath>
<g id="t21"><rect x="80" y="50" width="114.5" height="39.5" fill="#7cf8e9"/>
<path d="M118.5 50.5 120.2 50 126.9 50 129.5 50.8 131.5 51.9 143 59.1 150.5 64.3 155.5 66.3 158.5 66.7 171 67.3 178 68.1 182.5 68.9 186 69.7 190 70.9 192 71.8 194.5 73.5 194.5 89.5 80 89.5 80 64.7 108.3 64.5 108.6 62 109.1 60 110 58 111.2 56 112.9 54 114.5 52.6 116.5 51.4 118.5 50.5Z" fill="#80f8d8"/>
<path d="M122.5 53.5 124.5 53.5 126 53.7 129 54.8 141 62.3 148.5 67.6 153.5 69.6 156.5 70.3 170.5 71.1 177.5 71.9 184 73.2 188.5 74.4 190 75.1 192.5 76.8 194.5 79.2 194.5 89.5 80 89.5 80 64.7 112.2 64.5 112.4 62.5 113 60.5 114 58.6 115.3 57 117 55.5 118.5 54.6 120.5 53.8 122.5 53.5Z" fill="#80f8c1"/>
<path d="M122 57.4 124.5 57.3 127 58.1 139 65.5 146.5 70.8 148.5 71.8 152.5 73.3 156 74.1 169.5 74.8 175.5 75.5 182.5 76.7 188 78.3 189.8 79.5 191.1 81 192.1 83 192.4 85 194.5 85.1 194.5 89.5 80 89.5 80 64.7 116 64.5 116.5 62 117.7 60 119.5 58.4 122 57.4Z" fill="#80f8a9"/>
<path d="M122 61.3 123.5 61 124.5 61.1 125.4 61.5 137.5 69.1 145 74.3 148 75.7 151.5 77 155.5 77.9 168.5 78.6 175 79.2 181 80.3 186 81.6 187 82.1 187.9 83 188.4 84 188.6 85 194.5 85.2 194.5 89.5 80 89.5 80 64.7 110.5 64.7 119.8 64.5 120 63.5 120.5 62.6 122 61.3Z" fill="#81f892"/>
<path d="M80.5 64.8 123.5 64.8 127 66.9 128 67.7 128.5 67.8 130.5 69.3 131 69.3 133.5 71.2 134 71.3 138 74.2 138.5 74.3 141.5 76.7 142 76.8 144 78.2 144.5 78.2 146.5 79.3 147 79.3 150.5 80.7 151 80.7 152 81.1 154 81.4 154.5 81.7 160 81.8 161.5 82.2 170 82.3 170.5 82.6 174 82.8 175 83.2 177.5 83.3 178.5 83.7 179.5 83.8 180.5 84.2 182 84.4 182.5 84.7 184 84.9 184.5 85.2 194.5 85.2 194.5 89.5 80 89.5 80 64.8 80.5 64.8Z" fill="#85f883"/><path d="M126.9 50 130 51.1 131.7 52 143.6 59.5 150.5 64.3 155 66.1 156.6 66.5 159 66.7 171 67.3 181 68.6 184 69.3 190.5 71.1 192.3 72 194.5 73.5M80 64.7 108.3 64.5 108.5 62.5 109 60.5 110.2 57.5 111.2 56 112.5 54.4 114 53 115.5 51.9 117.2 51 120.2 50M80 64.7 112.2 64.5 112.6 61.5 113.2 60 114.1 58.5 115.3 57 116.5 55.9 118 54.9 121 53.7 122.5 53.5 125.5 53.6 128.5 54.6 130.1 55.5 142 63 148.5 67.6 153.5 69.6 157 70.4 171.5 71.2 181.5 72.6 189 74.6 190.5 75.3 192.7 77 194.5 79.2M80 64.7 116 64.5 116.5 62 117.7 60 118.7 59 120.5 57.9 122 57.4 123.5 57.2 125 57.4 126.5 57.8 127.8 58.5 139.7 66 146.5 70.8 148 71.6 151.6 73 154 73.7 156 74.1 171.5 75 175.8 75.5 181.5 76.5 185.5 77.5 188 78.3 190 79.6 191.5 81.6 192.1 83 192.5 85 194.5 85.1M80 64.7 119.8 64.5 120 63.5 120.5 62.5 121.5 61.6 122.5 61.2 123.5 61 124.5 61.1 125.5 61.6 138.5 69.8 145.5 74.6 150.5 76.6 155 77.8 172 78.9 180 80 186.5 81.8 187.5 82.5 188.2 83.5 188.6 85 194.5 85.2M80 64.8 123.5 64.8 127.1 67 128 67.7 128.5 67.8 130.5 69.3 131 69.3 133.5 71.2 134 71.3 138 74.2 138.5 74.3 141.5 76.7 142 76.8 144 78.2 144.5 78.2 146.5 79.3 147 79.3 150.5 80.7 151 80.7 152.5 81.2 154 81.4 154.5 81.7 160 81.8 161.5 82.2 170 82.3 170.5 82.6 174 82.8 179.5 83.8 184.5 85.2 194.5 85.2" fill="none" stroke="#2c4a44" stroke-opacity=".3" stroke-width=".42"/></g>
<clipPath id="ctp21"><polygon points="123.5,64.6 153.9,64.6 184.8,85.1 152.8,85.1"/></clipPath>
<g id="fc3"><rect x="-4" y="-4" width="164" height="94" fill="#7ceaf7"/>
<path d="M-3 -4 31.9 -4 34.4 -1 37.1 3 41.2 7 44 10.2 49.9 15 53 18.2 58.1 22 63 26.5 64.9 28 70 30.6 78 33.8 85 37.6 86 38.6 86.5 40 87 40.6 88 41.1 88.5 41 89 40.3 90 40.9 100.8 49 107 53 119 62.3 123 65 129 68 160 82.1 160 90 -4 90 -4 -4 -3 -4Z" fill="#7cf6ed"/>
<path d="M-3 -4 29.2 -4 33 0.2 36.2 5 40 8.1 43 11.5 47.1 15 52.3 20 54.2 22 57.2 26 58.1 27 60.6 29 64 31.3 67 32.9 73 35.8 83 40.1 91.6 45 96.1 48 102.8 53 110.1 59 118 66 120 67.4 124 69.4 141 76.8 160 85.6 160 90 -4 90 -4 -4 -3 -4Z" fill="#7ff8dc"/>
<path d="M-3 -3.6 0 -3 3 -2.9 7 -3.2 13.4 -4 26 -4 27.6 -3 28.6 -2 32.9 3 34.8 6 39.6 10 44.3 15 47.4 19 50.9 25 52.3 27 56 31 59 33.5 61.5 35 65 36.9 76.7 42 92 49.6 96 51.9 101 55.4 105.4 59 110.7 64 114.2 68 115.3 69 116.9 70 120 71.5 134 77.1 147 83 160 89.1 160 90 -4 90 -4 -3.8 -3 -3.6Z" fill="#80f8c5"/>
<path d="M-3 -2.4 0 -1.8 3 -1.8 13 -2.4 22 -2.7 24 -2.5 26 -1.7 26.8 -1 28 1.3 32 4.7 33 6 35 8 38.7 13 42 18.5 46.5 27 49.2 31 52.8 35 56.5 38 61 40.7 71 44.9 84 51.4 92 55.1 95.5 57 99 59.4 103.2 63 108 68 110.2 71 112 72.3 115 73.6 124 76.5 130 78.8 139.5 83 154.5 90 -4 90 -4 -2.6 -3 -2.4Z" fill="#80f8ab"/>
<path d="M-3 -1.3 1 -0.8 14 -0.9 22 0.4 23.4 1 25 3 27.2 5 29 7 31.3 10 33.9 15 36.9 22 40.1 27 43.4 33 46 36.1 47.9 38 50.4 40 53.3 42 57 44 75 52.1 91 59.9 94 61.5 97 63.6 100.8 67 104 70.7 106.3 74 108 75.4 110 76.2 119 78.2 124.4 80 133 83.6 147 90 -4 90 -4 -1.4 -3 -1.3Z" fill="#81f893"/>
<path d="M-3 -0.2 0 0.1 9 0.2 14 0.7 16 1.4 19.7 4 21.8 6 23.5 8 26.2 12 27.7 15 31 23.4 35.3 31 36.7 33 39.2 36 42 38.7 44.8 41 47.7 43 52.7 46 56 47.7 67 52.5 75 56.4 91 65.6 94.6 68 97 70 99.8 73 102.9 77 105 78.5 108 79.6 116 80.8 120.6 82 128 84.9 139.4 90 -4 90 -4 -0.2 -3 -0.2Z" fill="#86f881"/>
<path d="M-3 0.9 0 0.7 6 1 12 1.9 15 3 17.6 5 19.3 7 20.2 9 20.9 11 23 19.3 25.3 31 26.5 35 28 38 28.9 39 31.4 41 34.7 43 39 45 53 49.9 63.1 54 71.8 58 79.5 62 85.9 66 91 70 94 73 97.2 77 99.1 79 102 81.7 103 82.3 106 83.2 110 83.6 115 83.9 117 84.3 123 86.4 131.4 90 -4 90 -4 1 -3 0.9Z" fill="#99f876"/>
<path d="M-2 1.9 0 1.5 3 1.8 4.4 2 7.4 3 10 4.7 12 6.6 14.3 10 15.3 13 15.7 15 16.1 25 17.3 39 17.7 41 18.3 43 19 44.2 20 45.1 21 45.5 24 45.7 29 46.5 35 48 45 51.6 51 54.2 56 56.6 65 61.5 75 67.6 85 74.5 93 80.5 98.6 85 100 85.7 102 86.4 105 86.9 115 87.7 118 88.4 122.5 90 -4 90 -4 2.3 -2 1.9Z" fill="#aaf871"/>
<path d="M-3 4 0 3.9 1 3.6 2 3.7 6 5.4 9.4 8 11 10 12 11.9 12.7 14 13.1 17 12.8 35 13.2 41 13.9 44 14.7 46 16 47.7 17 48.7 18 49.3 20 50.1 30 51.5 37 53.3 46 56.5 56 60.8 64 64.9 75 71.3 82.3 76 90 81.3 95 85 98 87.7 100 88.8 103.5 90 -4 90 -4 4.1 -3 4Z" fill="#baf570"/>
<path d="M-3 6.3 3 7.1 5 8 6.5 9 7.6 10 9 11.9 9.6 13 10.2 15 10.4 18 10.3 24 9.6 36 9.8 42 10.4 45 11.5 48 13 50.3 15 52.3 17 53.6 20 54.7 31 56.2 40 58.6 49 61.8 57 65.2 68.5 71 80 77.7 91.1 85 96.9 90 -4 90 -4 6.3 -3 6.3Z" fill="#cdf670"/>
<path d="M-3 8.8 2 9.7 4 10.5 5.8 12 7.1 14 7.7 17 7.9 21 7.7 25 6.5 37 6.5 41 6.8 44 7.7 48 9 51 11 54 13 56.1 16 58.2 19 59.6 22 60.3 31 61.4 37 62.8 46 65.5 55.1 69 64 73 75.4 79 87.1 86 90 88 92.5 90 -4 90 -4 8.6 -3 8.8Z" fill="#e3f872"/>
<path d="M-3 11.3 1 12.3 3 13.2 4 14.2 4.8 16 5.3 19 5.4 22 5.1 26 3.5 38 3.4 42 3.8 46 4.7 50 6.5 54 9 57.8 12 60.9 16 63.9 18 65 21 66.2 23 66.7 30 67.5 36 68.8 43 70.8 51 73.6 62 78.4 68 81.4 74.5 85 81 87.2 86.6 90 -4 90 -4 11.1 -3 11.3Z" fill="#f4f873"/>
<path d="M-3 13.8 1 15.2 2 16.3 2.8 19 2.9 21 2.7 24 0.8 35 0.2 40 0.3 45 1.1 50 2.5 54 4.5 58 7 61.7 10 64.9 14 68.1 17 70 19 70.9 23 72 29 72.6 34 73.6 39 74.8 45 76.7 50 78.5 57 81.4 64 84.7 71 88.4 75 90 -4 90 -4 13.6 -3 13.8Z" fill="#fbf072"/>
<path d="M-3 16.8 -2 17 -1 17.5 -0.6 18 -0.2 19 0 21 -0.4 24 -2.4 34 -3 39 -3.2 44 -2.7 49 -1.4 54 0.7 59 3.2 63 6.4 67 9 69.5 12.1 72 15.3 74 19 75.7 23.5 77 29 77.5 34 78.4 44 80.9 50 82.9 55.4 85 65 90 -4 90 -4 16.6 -3 16.8Z" fill="#fbd378"/>
<path d="M-3.8 58 -2.4 61 -0.7 64 1.4 67 3.9 70 6 72.1 9 74.7 14 78 17 79.4 20 80.4 23 81 28 81.6 32 82.5 36 83.7 40 85.2 46 86.5 50 87.6 55.9 90 -4 90 -4 57.5 -3.8 58Z" fill="#fbb778"/><path d="M31.9 -4 33.6 -2 37.1 3 42.1 8 44 10.2 49 14.2 53 18.2 57 21.1 64 27.4 66 28.6 68.8 30 78.3 34 85.5 38 86.2 39 86.5 40 87 40.6 88 41.1 88.5 41 89 40.3 101 49.2 105 51.6 108 53.7 122 64.4 125 66.1 129 68 160 82.1M29.2 -4 33 0.2 36.2 5 40.9 9 43 11.5 49 16.8 52.3 20 54.9 23 57 25.8 58.1 27 60.6 29 66 32.4 70 34.4 82 39.7 91.6 45 97 48.6 104.1 54 110.1 59 118 66 120 67.4 123 68.9 142 77.2 160 85.6M-4 -3.8 0 -3 2 -2.8 5 -3 13.4 -4M26 -4 27.6 -3 28.6 -2 32.1 2 35 6.2 40 10.4 44.3 15 48 20 51.6 26 53.1 28 55 30.1 59 33.5 64 36.4 78.7 43 85 46.1 94 50.7 97 52.6 103 57 106.5 60 110.7 64 114.2 68 115.3 69 117 70.1 139 79.3 160 89.1M-4 -2.6 1 -1.8 4 -1.8 14 -2.5 23 -2.7 24 -2.5 26 -1.7 27 -0.7 28 1.3 31 3.7 32.2 5 33 6 35 8 37.3 11 40.6 16 46 26.1 49.2 31 51 33.2 53 35.2 57 38.3 59.7 40 62 41.1 70 44.4 85 51.9 94 56.1 96 57.3 99 59.4 102.1 62 105 64.8 107.1 67 110.2 71 111.4 72 113 72.8 127 77.6 133 80.1 154.5 90M-4 -1.4 1 -0.8 14 -0.9 22 0.4 23.4 1 25 3 27.2 5 31.3 10 34 15.1 37.5 23 44.2 34 46 36.1 48 38.1 50.4 40 53.3 42 56 43.5 75 52.1 93.1 61 95 62.2 99 65.3 101 67.2 103.5 70 106.3 74 107.4 75 110 76.2 119 78.2 126 80.6 131.7 83 147 90M-4 -0.2 0 0.1 6 0.1 12 0.4 15 1 17 2 20 4.3 22.7 7 25 10.1 27.3 14 31 23.4 36 32 37.4 34 41.2 38 46.2 42 51 45 55 47.2 69 53.4 79 58.6 94.6 68 98 71 103 77.1 104.2 78 106 79 108 79.6 117.1 81 120 81.8 128.2 85 139.4 90M-4 1 0 0.7 6 1 9 1.4 12.4 2 15 3 17.6 5 19.3 7 20.2 9 21 11.3 22 15.1 24.8 29 26.5 35 27.4 37 29 39.1 30 40 33 42 37 44.1 41 45.8 51 49.2 56 51.1 66 55.3 70 57.1 81.2 63 87.2 67 91 70 93.1 72 97.2 77 100.2 80 102 81.7 103 82.3 106 83.2 109 83.6 115 83.9 117 84.3 124.4 87 131.4 90M-4 2.3 0 1.5 4.4 2 8 3.3 10.4 5 12.3 7 14.3 10 15.5 14 15.8 16 16.3 27 17.4 40 18.3 43 19 44.2 20 45.1 21 45.5 27 46.2 31.2 47 38 49 45 51.6 51 54.2 56.8 57 67 62.6 80 71 95 82.1 99 85.2 101 86.1 103 86.6 106 87 114 87.6 116.4 88 122.5 90M-4 4.1 -1 3.8 0 3.9 1 3.6 2 3.7 6 5.4 9.4 8 11.6 11 12.4 13 12.9 15 13.1 17 12.9 29 12.8 37 13 40 13.3 42 14.2 45 15 46.4 16 47.7 17 48.7 18 49.3 19.6 50 21 50.3 30 51.5 37 53.3 43 55.3 53 59.4 59 62.3 71.2 69 81 75.1 87 79.2 95.1 85 97.1 87 98.5 88 100 88.8 103.5 90M-4 6.3 3 7.1 5.1 8 7.6 10 9.1 12 9.6 13 10.3 16 10.4 19 9.5 37 9.6 40 9.9 43 11.1 47 12.1 49 13 50.3 15 52.3 18 54 20 54.7 31 56.2 35 57.1 41.4 59 51 62.6 56.6 65 67 70.2 78.8 77 90 84.3 92.4 86 96.9 90M-4 8.6 3 10 5 11.2 6 12.3 7.1 14 7.7 17 7.9 20 7.5 27 6.5 38 6.5 41 6.8 44 7.7 48 8.5 50 10.2 53 13 56.1 15 57.6 17 58.8 19 59.6 21 60.1 31 61.4 35 62.2 41 63.9 46 65.5 56 69.4 61.8 72 73.6 78 82.3 83 88 86.6 92.5 90M-4 11.1 2 12.7 3 13.2 4 14.2 4.4 15 5 17 5.4 21 5.3 24 3.7 36 3.4 39 3.4 42 3.6 45 4.4 49 6 53.1 8.4 57 10 59 12.1 61 14 62.6 16.2 64 20.4 66 22 66.5 28 67.2 32 67.8 37 69 45 71.4 51 73.6 58 76.6 65 79.9 74.5 85 80 86.8 83 88.1 86.6 90M-4 13.6 -2 14.1 1 15.2 1.8 16 2.3 17 2.8 19 2.8 23 0.4 38 0.2 44 0.5 47 1.1 50 2.1 53 3 55.2 5.1 59 7 61.7 9 63.9 13 67.4 15.3 69 19.3 71 23 72 28 72.5 36 74 41 75.4 46 77 56 81 65 85.3 71 88.4 75 90M-4 16.6 -2 17 -1 17.5 -0.6 18 -0.1 20 -0.1 22 -0.5 25 -2.5 35 -3 38.6 -3.2 44 -2.9 47 -2.5 50 -1.7 53 -0.6 56 0.7 59 3.9 64 7.4 68 11 71.2 13.6 73 17.3 75 19.7 76 23.5 77 29 77.5 37 79 47 81.9 56 85.3 65 90M-4 57.5 -2.4 61 -1 63.5 1 66.5 3 69 5.9 72 8.1 74 11 76.1 14 78 17 79.4 20 80.4 23 81 28 81.6 32 82.5 36 83.7 40 85.2 46 86.5 50 87.6 55.9 90" fill="none" stroke="#2c4a44" stroke-opacity=".3" stroke-width=".42"/></g>
<clipPath id="cp22"><polygon points="0,0 25.9,0 121.1,63.8 94.3,85.1 25,85.1 16.8,17.1 0,17.1"/></clipPath>
<g id="t22"><rect x="80" y="50" width="114.5" height="39.5" fill="#80f8d8"/>
<path d="M90 64.9 92 64.6 94.5 64.6 103.5 65.2 106.5 65.6 112.5 67.1 136 69.1 143 70 148 70.9 152 72 157.5 73.9 160.3 75.5 162 77.1 163.5 79.4 164.3 81.5 164.7 84 194.5 84.2 194.5 89.5 80 89.5 80 75.5 81.3 75.5 81.6 73.5 82.2 71.5 83.3 69.5 84.5 68.1 87 66.1 90 64.9Z" fill="#80f8c1"/>
<path d="M91.5 68.5 96.5 68.5 103.5 69 106.5 69.5 111.5 70.8 135.5 72.8 141.5 73.6 147 74.6 153 76.3 156 77.4 157.5 78.2 158.5 79 159.8 80.5 160.5 82 160.9 84 194.5 84.2 194.5 89.5 80 89.5 80 75.6 85.1 75.5 85.7 73 87 71 89 69.4 91.5 68.5Z" fill="#80f8a9"/>
<path d="M91.5 72.4 92.5 72.2 95 72.2 103 72.7 105.5 73.2 111 74.5 129.5 76.1 143 77.7 149 79.1 155 81.1 156 81.8 156.5 82.5 157.1 84 166 84.2 194.5 84.2 194.5 89.5 80 89.5 80 75.7 88.9 75.5 89.2 74.5 89.8 73.5 90.5 72.9 91.5 72.4Z" fill="#81f892"/>
<path d="M80.5 75.8 91.5 75.8 92.5 75.9 93 76.2 95.5 76.1 101.5 76.3 103 76.7 105 76.8 105.5 77.1 107 77.3 109 78.1 112 78.4 112.5 78.7 117.5 78.8 119 79.2 124.5 79.3 126 79.7 129.5 79.8 131 80.2 135 80.3 136.5 80.7 139.5 80.9 140 81.2 142 81.3 143.5 81.7 145 81.9 145.5 82.2 147 82.4 149 83.2 149.5 83.2 151 83.8 151.5 83.8 152.5 84.3 153.5 84.4 194.5 84.3 194.5 89.5 80 89.5 80 75.8 80.5 75.8Z" fill="#85f883"/>
<path d="M80.5 75.8 88.9 76 89.2 77.5 89.8 78.5 91 79.4 92 79.7 102.5 80.3 108 81.7 111 82.2 127 83.4 139.5 84.8 146 86.1 153 88.3 154.5 88.1 156 87.2 156.8 86 157.1 84.5 166 84.3 194.5 84.3 194.5 89.5 80 89.5 80 75.8 80.5 75.8Z" fill="#94f878"/>
<path d="M80.5 75.9 85.1 76 85.5 78.5 86.6 80.5 88.5 82.3 91 83.4 102 84.1 107 85.3 110 85.9 133.5 87.9 139.5 88.7 143.9 89.5 80 89.5 80 75.9 80.5 75.9ZM161 84.5 194.5 84.3 194.5 89.5 159 89.5 160.3 87.5 161 84.5Z" fill="#a3f872"/><path d="M80 75.5 81.3 75.5 81.9 72.5 82.5 70.9 84.1 68.5 86.5 66.4 88 65.6 89.5 65.1 92.5 64.6 97.5 64.7 104 65.2 106.5 65.6 112.1 67 130 68.5 140 69.6 148 70.9 151.5 71.9 158.5 74.4 161 76.1 163 78.5 163.8 80 164.3 81.5 164.7 84 194.5 84.2M80 75.6 85.1 75.5 85.4 74 86.2 72 87 71 88 70 90 68.9 91.5 68.5 93 68.4 103.7 69 111.5 70.8 132 72.5 141 73.5 148 74.9 155 77 157 77.9 158 78.5 159.8 80.5 160.3 81.5 161 84 194.5 84.2M80 75.7 88.9 75.5 89.2 74.5 89.8 73.5 90.5 72.9 91.5 72.4 92.5 72.2 103 72.7 105.5 73.2 111 74.5 133 76.4 143 77.7 147.5 78.6 155 81.1 156 81.8 156.5 82.5 157.1 84 194.5 84.2M80 75.8 92 75.8 93 76.2 98.5 76.2 105 76.8 105.5 77.1 107.5 77.6 112.5 78.7 117.5 78.8 119 79.2 125 79.4 126 79.7 128 79.7 131 80.2 135 80.3 136.5 80.7 139.7 81 140 81.2 144 81.7 148.5 82.9 149 83.2 149.5 83.2 151 83.8 151.5 83.8 152.5 84.3 194.5 84.3M80 75.8 88.9 76 89 77 89.5 78 90 78.7 91.5 79.6 92.5 79.8 100.5 80.1 103.5 80.5 110.5 82.1 130.5 83.8 143 85.4 145.6 86 153 88.3 154 88.2 155 87.9 156 87.2 156.5 86.5 157 85.5 157.1 84.5 194.5 84.3M80 75.9 85.1 76 85.2 77.5 85.7 79 87 81 89 82.6 91.5 83.5 98 83.8 102.5 84.2 108 85.6 111 86 128.5 87.4 138.3 88.5 143.9 89.5M159 89.5 160.3 87.5 161 84.5 194.5 84.3" fill="none" stroke="#2c4a44" stroke-opacity=".3" stroke-width=".42"/></g>
<clipPath id="ctp22"><polygon points="121.1,63.8 152.8,85.1 94.3,85.1"/></clipPath>
<g id="fc3r3"><rect x="-4" y="-4" width="164" height="94" fill="#7ceaf7"/>
<path d="M-3 -4 31.9 -4 34.4 -1 37.1 3 41.2 7 44 10.2 49.9 15 53 18.2 58.1 22 63 26.5 64.9 28 70 30.6 78 33.8 85 37.6 86 38.6 86.5 40 87 40.6 88 41.1 88.5 41 89 40.3 90 40.9 100.8 49 107 53 119 62.3 123 65 129 68 160 82.1 160 90 -4 90 -4 -4 -3 -4Z" fill="#7cf6ed"/>
<path d="M-3 -4 29.2 -4 33 0.2 36.2 5 40 8.1 43 11.5 47.1 15 52.3 20 54.2 22 57.2 26 58.1 27 60.6 29 64 31.3 67 32.9 73 35.8 83 40.1 91.6 45 96.1 48 102.8 53 110.1 59 118 66 120 67.4 124 69.4 141 76.8 160 85.6 160 90 -4 90 -4 -4 -3 -4Z" fill="#7ff8dc"/>
<path d="M-3 -3.6 0 -3 3 -2.9 7 -3.2 13.4 -4 26 -4 27.6 -3 28.6 -2 32.9 3 34.8 6 39.6 10 44.3 15 47.4 19 50.9 25 52.3 27 56 31 59 33.5 61.5 35 65 36.9 76.7 42 92 49.6 96 51.9 101 55.4 105.4 59 110.7 64 114.2 68 115.3 69 116.9 70 120 71.5 134 77.1 147 83 160 89.1 160 90 -4 90 -4 -3.8 -3 -3.6Z" fill="#80f8c5"/>
<path d="M-3 -2.4 0 -1.8 3 -1.8 13 -2.4 22 -2.7 24 -2.5 26 -1.7 26.8 -1 28 1.3 32 4.7 33 6 35 8 38.7 13 42 18.5 46.5 27 49.2 31 52.8 35 56.5 38 61 40.7 71 44.9 84 51.4 92 55.1 95.5 57 99 59.4 103.2 63 108 68 110.2 71 112 72.3 115 73.6 124 76.5 130 78.8 139.5 83 154.5 90 -4 90 -4 -2.6 -3 -2.4Z" fill="#80f8ab"/>
<path d="M-3 -1.3 1 -0.8 14 -0.9 22 0.4 23.4 1 25 3 27.2 5 29 7 31.3 10 33.9 15 36.9 22 40.1 27 43.4 33 46 36.1 47.9 38 50.4 40 53.3 42 57 44 75 52.1 91 59.9 94 61.5 97 63.6 100.8 67 104 70.7 106.3 74 108 75.4 110 76.2 119 78.2 124.4 80 133 83.6 147 90 -4 90 -4 -1.4 -3 -1.3Z" fill="#81f893"/>
<path d="M-3 -0.2 0 0.1 9 0.2 14 0.7 16 1.4 19.7 4 21.8 6 23.5 8 26.2 12 27.7 15 31 23.4 35.3 31 36.7 33 39.2 36 42 38.7 44.8 41 47.7 43 52.7 46 56 47.7 67 52.5 75 56.4 91 65.6 94.6 68 97 70 99.8 73 102.9 77 105 78.5 108 79.6 116 80.8 120.6 82 128 84.9 139.4 90 -4 90 -4 -0.2 -3 -0.2Z" fill="#86f880"/>
<path d="M-3 0.9 0 0.7 6 1 12 1.9 15 3 17.6 5 19.3 7 20.2 9 20.9 11 23 19.3 25.3 31 26.5 35 28 38 28.9 39 31.4 41 34.7 43 39 45 53 49.9 63.1 54 71.8 58 79.5 62 85.9 66 91 70 94 73 97.2 77 99.1 79 102 81.7 103 82.3 106 83.2 110 83.6 115 83.9 117 84.3 123 86.4 131.4 90 -4 90 -4 1 -3 0.9Z" fill="#9df874"/>
<path d="M-2 1.9 0 1.5 3 1.8 4.4 2 7.4 3 10 4.7 12 6.6 14.3 10 15.3 13 15.7 15 16.1 25 17.3 39 17.7 41 18.3 43 19 44.2 20 45.1 21 45.5 24 45.7 29 46.5 35 48 45 51.6 51 54.2 56 56.6 65 61.5 75 67.6 85 74.5 93 80.5 98.6 85 100 85.7 102 86.4 105 86.9 115 87.7 118 88.4 122.5 90 -4 90 -4 2.3 -2 1.9Z" fill="#aff870"/>
<path d="M-3 4 0 3.9 1 3.6 2 3.7 6 5.4 9.4 8 11 10 12 11.9 12.7 14 13.1 17 12.8 35 13.2 41 13.9 44 14.7 46 16 47.7 17 48.7 18 49.3 20 50.1 30 51.5 37 53.3 46 56.5 56 60.8 64 64.9 75 71.3 82.3 76 90 81.3 95 85 98 87.7 100 88.8 103.5 90 -4 90 -4 4.1 -3 4Z" fill="#c2f470"/>
<path d="M-3 6.3 3 7.1 5 8 6.5 9 7.6 10 9 11.9 9.6 13 10.2 15 10.4 18 10.3 24 9.6 36 9.8 42 10.4 45 11.5 48 13 50.3 15 52.3 17 53.6 20 54.7 31 56.2 40 58.6 49 61.8 57 65.2 68.5 71 80 77.7 91.1 85 96.9 90 -4 90 -4 6.3 -3 6.3Z" fill="#daf870"/>
<path d="M-3 8.8 2 9.7 4 10.5 5.8 12 7.1 14 7.7 17 7.9 21 7.7 25 6.5 37 6.5 41 6.8 44 7.7 48 9 51 11 54 13 56.1 16 58.2 19 59.6 22 60.3 31 61.4 37 62.8 46 65.5 55.1 69 64 73 75.4 79 87.1 86 90 88 92.5 90 -4 90 -4 8.6 -3 8.8Z" fill="#f1f874"/>
<path d="M-3 11.3 1 12.3 3 13.2 4 14.2 4.8 16 5.3 19 5.4 22 5.1 26 3.5 38 3.4 42 3.8 46 4.7 50 6.5 54 9 57.8 12 60.9 16 63.9 18 65 21 66.2 23 66.7 30 67.5 36 68.8 43 70.8 51 73.6 62 78.4 68 81.4 74.5 85 81 87.2 86.6 90 -4 90 -4 11.1 -3 11.3Z" fill="#fbf471"/>
<path d="M-3 13.8 1 15.2 2 16.3 2.8 19 2.9 21 2.7 24 0.8 35 0.2 40 0.3 45 1.1 50 2.5 54 4.5 58 7 61.7 10 64.9 14 68.1 17 70 19 70.9 23 72 29 72.6 34 73.6 39 74.8 45 76.7 50 78.5 57 81.4 64 84.7 71 88.4 75 90 -4 90 -4 13.6 -3 13.8Z" fill="#fbd378"/>
<path d="M-3 16.8 -2 17 -1 17.5 -0.6 18 -0.2 19 0 21 -0.4 24 -2.4 34 -3 39 -3.2 44 -2.7 49 -1.4 54 0.7 59 3.2 63 6.4 67 9 69.5 12.1 72 15.3 74 19 75.7 23.5 77 29 77.5 34 78.4 44 80.9 50 82.9 55.4 85 65 90 -4 90 -4 16.6 -3 16.8Z" fill="#fbb578"/>
<path d="M-3.8 58 -2.4 61 -0.7 64 1.4 67 3.9 70 6 72.1 9 74.7 14 78 17 79.4 20 80.4 23 81 28 81.6 32 82.5 36 83.7 40 85.2 46 86.5 50 87.6 55.9 90 -4 90 -4 57.5 -3.8 58Z" fill="#faa378"/><path d="M31.9 -4 33.6 -2 37.1 3 42.1 8 44 10.2 49 14.2 53 18.2 57 21.1 64 27.4 66 28.6 68.8 30 78.3 34 85.5 38 86.2 39 86.5 40 87 40.6 88 41.1 88.5 41 89 40.3 101 49.2 105 51.6 108 53.7 122 64.4 125 66.1 129 68 160 82.1M29.2 -4 33 0.2 36.2 5 40.9 9 43 11.5 49 16.8 52.3 20 54.9 23 57 25.8 58.1 27 60.6 29 66 32.4 70 34.4 82 39.7 91.6 45 97 48.6 104.1 54 110.1 59 118 66 120 67.4 123 68.9 142 77.2 160 85.6M-4 -3.8 0 -3 2 -2.8 5 -3 13.4 -4M26 -4 27.6 -3 28.6 -2 32.1 2 35 6.2 40 10.4 44.3 15 48 20 51.6 26 53.1 28 55 30.1 59 33.5 64 36.4 78.7 43 85 46.1 94 50.7 97 52.6 103 57 106.5 60 110.7 64 114.2 68 115.3 69 117 70.1 139 79.3 160 89.1M-4 -2.6 1 -1.8 4 -1.8 14 -2.5 23 -2.7 24 -2.5 26 -1.7 27 -0.7 28 1.3 31 3.7 32.2 5 33 6 35 8 37.3 11 40.6 16 46 26.1 49.2 31 51 33.2 53 35.2 57 38.3 59.7 40 62 41.1 70 44.4 85 51.9 94 56.1 96 57.3 99 59.4 102.1 62 105 64.8 107.1 67 110.2 71 111.4 72 113 72.8 127 77.6 133 80.1 154.5 90M-4 -1.4 1 -0.8 14 -0.9 22 0.4 23.4 1 25 3 27.2 5 31.3 10 34 15.1 37.5 23 44.2 34 46 36.1 48 38.1 50.4 40 53.3 42 56 43.5 75 52.1 93.1 61 95 62.2 99 65.3 101 67.2 103.5 70 106.3 74 107.4 75 110 76.2 119 78.2 126 80.6 131.7 83 147 90M-4 -0.2 0 0.1 6 0.1 12 0.4 15 1 17 2 20 4.3 22.7 7 25 10.1 27.3 14 31 23.4 36 32 37.4 34 41.2 38 46.2 42 51 45 55 47.2 69 53.4 79 58.6 94.6 68 98 71 103 77.1 104.2 78 106 79 108 79.6 117.1 81 120 81.8 128.2 85 139.4 90M-4 1 0 0.7 6 1 9 1.4 12.4 2 15 3 17.6 5 19.3 7 20.2 9 21 11.3 22 15.1 24.8 29 26.5 35 27.4 37 29 39.1 30 40 33 42 37 44.1 41 45.8 51 49.2 56 51.1 66 55.3 70 57.1 81.2 63 87.2 67 91 70 93.1 72 97.2 77 100.2 80 102 81.7 103 82.3 106 83.2 109 83.6 115 83.9 117 84.3 124.4 87 131.4 90M-4 2.3 0 1.5 4.4 2 8 3.3 10.4 5 12.3 7 14.3 10 15.5 14 15.8 16 16.3 27 17.4 40 18.3 43 19 44.2 20 45.1 21 45.5 27 46.2 31.2 47 38 49 45 51.6 51 54.2 56.8 57 67 62.6 80 71 95 82.1 99 85.2 101 86.1 103 86.6 106 87 114 87.6 116.4 88 122.5 90M-4 4.1 -1 3.8 0 3.9 1 3.6 2 3.7 6 5.4 9.4 8 11.6 11 12.4 13 12.9 15 13.1 17 12.9 29 12.8 37 13 40 13.3 42 14.2 45 15 46.4 16 47.7 17 48.7 18 49.3 19.6 50 21 50.3 30 51.5 37 53.3 43 55.3 53 59.4 59 62.3 71.2 69 81 75.1 87 79.2 95.1 85 97.1 87 98.5 88 100 88.8 103.5 90M-4 6.3 3 7.1 5.1 8 7.6 10 9.1 12 9.6 13 10.3 16 10.4 19 9.5 37 9.6 40 9.9 43 11.1 47 12.1 49 13 50.3 15 52.3 18 54 20 54.7 31 56.2 35 57.1 41.4 59 51 62.6 56.6 65 67 70.2 78.8 77 90 84.3 92.4 86 96.9 90M-4 8.6 3 10 5 11.2 6 12.3 7.1 14 7.7 17 7.9 20 7.5 27 6.5 38 6.5 41 6.8 44 7.7 48 8.5 50 10.2 53 13 56.1 15 57.6 17 58.8 19 59.6 21 60.1 31 61.4 35 62.2 41 63.9 46 65.5 56 69.4 61.8 72 73.6 78 82.3 83 88 86.6 92.5 90M-4 11.1 2 12.7 3 13.2 4 14.2 4.4 15 5 17 5.4 21 5.3 24 3.7 36 3.4 39 3.4 42 3.6 45 4.4 49 6 53.1 8.4 57 10 59 12.1 61 14 62.6 16.2 64 20.4 66 22 66.5 28 67.2 32 67.8 37 69 45 71.4 51 73.6 58 76.6 65 79.9 74.5 85 80 86.8 83 88.1 86.6 90M-4 13.6 -2 14.1 1 15.2 1.8 16 2.3 17 2.8 19 2.8 23 0.4 38 0.2 44 0.5 47 1.1 50 2.1 53 3 55.2 5.1 59 7 61.7 9 63.9 13 67.4 15.3 69 19.3 71 23 72 28 72.5 36 74 41 75.4 46 77 56 81 65 85.3 71 88.4 75 90M-4 16.6 -2 17 -1 17.5 -0.6 18 -0.1 20 -0.1 22 -0.5 25 -2.5 35 -3 38.6 -3.2 44 -2.9 47 -2.5 50 -1.7 53 -0.6 56 0.7 59 3.9 64 7.4 68 11 71.2 13.6 73 17.3 75 19.7 76 23.5 77 29 77.5 37 79 47 81.9 56 85.3 65 90M-4 57.5 -2.4 61 -1 63.5 1 66.5 3 69 5.9 72 8.1 74 11 76.1 14 78 17 79.4 20 80.4 23 81 28 81.6 32 82.5 36 83.7 40 85.2 46 86.5 50 87.6 55.9 90" fill="none" stroke="#2c4a44" stroke-opacity=".3" stroke-width=".42"/></g>
<clipPath id="cp23"><polygon points="0,0 25.9,0 121.1,64.3 94.5,85.1 25,85.1 16.8,17.1 0,17.1"/></clipPath>
<g id="t23"><rect x="80" y="50" width="114.5" height="39.5" fill="#80f8d8"/>
<path d="M90.5 63.9 93 63.6 99.5 64 117.5 65.6 153.5 68.2 168 69.7 173.5 70.5 177 71.3 181.5 72.6 188 74.8 190 75.9 191.8 77.5 193.5 79.9 194.5 82.5 194.5 89.5 80 89.5 80 75 81.7 75 82 72.5 82.7 70.5 83.8 68.5 85 67 87.5 65.1 90.5 63.9Z" fill="#80f8c1"/>
<path d="M92 67.5 93.5 67.4 100 67.8 118.5 69.5 152.5 71.9 164.5 73.1 173.5 74.4 177.5 75.4 182.5 76.9 186.5 78.3 188 79.2 189 80.1 190.1 81.5 190.7 83 191 85 194.5 85.1 194.5 89.5 80 89.5 80 75.1 85.5 75 86 72.5 86.7 71 87.4 70 89.5 68.3 92 67.5Z" fill="#80f8a9"/>
<path d="M92 71.4 93 71.2 99 71.6 117.5 73.2 144.5 75 162 76.6 172 78 178.5 79.6 185 81.8 186.5 83 187 84 187.2 85 194.5 85.2 194.5 89.5 80 89.5 80 75.2 89.3 75 89.5 74 90 72.9 91 71.9 92 71.4Z" fill="#81f892"/>
<path d="M80.5 75.2 92 75.2 94.5 75.1 100.5 75.3 101 75.6 106 75.8 107.5 76.2 111.5 76.4 112.5 76.7 116.5 76.8 118 77.2 123.5 77.3 125 77.7 132 77.8 132.5 78.2 139.5 78.3 141 78.7 146 78.8 146.5 79.2 151.5 79.3 153 79.7 157 79.8 158.5 80.2 162 80.3 163.5 80.7 166 80.8 167 81.2 169.5 81.3 171 81.7 172.5 81.9 173 82.2 176.5 82.8 178.5 83.7 181 84.3 183.5 85.2 194.5 85.2 194.5 89.5 80 89.5 80 75.2 80.5 75.2Z" fill="#85f883"/>
<path d="M80.5 75.3 89.4 75.5 89.6 76.5 90.5 77.7 91.5 78.4 92.5 78.7 105 79.6 118 80.9 143.5 82.6 156 83.6 165 84.6 170 85.4 173.5 86.1 183 89 184.5 88.9 186 88.1 186.8 87 187.2 85.5 194.5 85.3 194.5 89.5 80 89.5 80 75.3 80.5 75.3Z" fill="#94f878"/>
<path d="M80.5 75.4 85.5 75.5 86.1 78 87.5 80.1 89.5 81.7 92 82.5 104 83.4 117 84.6 140.5 86.2 155 87.4 164.5 88.4 171.3 89.5 80 89.5 80 75.4 80.5 75.4ZM191.5 85.5 194.5 85.4 194.5 89.5 189.7 89.5 190.7 87.5 191 85.5 191.5 85.5Z" fill="#a3f872"/><path d="M80 75 81.7 75 82.1 72 82.7 70.5 83.5 68.9 85.5 66.5 87 65.4 88.5 64.6 91.5 63.7 95.5 63.7 120.5 65.8 145 67.5 165.5 69.4 175 70.9 183.5 73.2 188.5 75 190.1 76 191.5 77.2 192.6 78.5 193.6 80 194.5 82.5M80 75.1 85.5 75 85.7 73.5 86.1 72 87.5 69.9 88.5 69 90.5 67.9 92 67.5 93.5 67.4 106 68.3 117 69.4 141.4 71 159.5 72.5 169.5 73.7 174.5 74.6 178 75.5 186.5 78.3 188.5 79.6 189.5 80.7 190.5 82.5 191 85 194.5 85.1M80 75.2 89.3 75 89.5 73.9 89.9 73 90.5 72.3 92 71.4 93 71.2 153 75.8 167 77.2 173.5 78.3 178.1 79.5 185.5 82.1 186.8 83.5 187.2 85 194.5 85.2M80 75.2 94.5 75.1 100.5 75.3 101 75.6 111.5 76.4 112.5 76.7 116.5 76.8 118.5 77.2 124.3 77.5 125 77.7 132 77.8 132.5 78.2 139.5 78.3 141 78.7 146.2 79 146.5 79.2 151.5 79.3 153 79.7 157 79.8 158.5 80.2 162 80.3 163.5 80.7 169.5 81.3 176.5 82.8 178.5 83.7 179 83.7 183.5 85.2 194.5 85.2M80 75.3 89.4 75.5 89.6 76.5 90.3 77.5 91 78.1 92 78.6 93 78.8 148 83 161 84.1 166.5 84.8 173.1 86 183.5 89 184.5 88.9 186.1 88 186.8 87 187.2 85.5 194.5 85.3M80 75.4 85.5 75.5 86.1 78 87.5 80.1 89.5 81.7 92 82.5 100 83 116.5 84.6 151.5 87.1 165 88.5 171.3 89.5M189.7 89.5 190.7 87.5 191 85.5 194.5 85.4" fill="none" stroke="#2c4a44" stroke-opacity=".3" stroke-width=".42"/></g>
<clipPath id="ctp23"><polygon points="121.1,64.3 151,64.3 183.1,85.1 94.5,85.1"/></clipPath>
</defs>
<g transform="translate(7.4,8.2) scale(1.0)">
<g clip-path="url(#cp00)"><use href="#fa1"/></g>
<polyline points="0,17.1 0,85.1 25,85.1" class="wb"/>
<polygon points="0,0 25.9,0 152.8,85.1 25,85.1 16.8,17.1 0,17.1" class="ol"/>
<path d="M0 9.1 3.1 9.4 7.5 10.3 10.4 11.2 13.2 12.5 15.6 14.4 16.6 15.6 17.3 16.8 17.9 18.3 18.2 19.8" class="dl"/>
<path d="M22.1 60.6 35.3 63.5 42.7 64.7 66.6 67.6 101 71 107 71.8 115.9 73.3 123.3 74.8 130.6 76.6 146.5 81 149.2 82.3 150.4 83.1 152.8 85.1" class="dl"/>
</g>
<g transform="translate(7.4,128.4) scale(0.9025)">
<g clip-path="url(#cp01)"><use href="#fa1"/></g>
<g clip-path="url(#ctp01)"><use href="#t01"/></g>
<polyline points="0,17.1 0,85.1 25,85.1" class="wb"/>
<polygon points="0,0 25.9,0 152.8,85.1 25,85.1 16.8,17.1 0,17.1" class="ol"/>
<polyline points="123.5,64.6 153.9,64.6 184.8,85.1 152.8,85.1" class="ol"/>
<path d="M-0.2 10 3.3 10.4 8.2 11.6 11.5 12.7 14.9 14.4 16.1 15.4 16.8 16.6 17.4 18 17.9 19.8 18.1 21.7" class="dl"/>
<path d="M22.5 61.7 40.7 64.7 60.6 67.5 78.9 69.9 99 72.1 112.2 74.2 122.1 76.1 130.3 78 138.3 80.3 146.2 83.4 151.1 84.5 156.1 84.9 184.6 85.3" class="dl"/>
</g>
<g transform="translate(7.4,241.5) scale(1.0)">
<g clip-path="url(#cp02)"><use href="#fa3"/></g>
<g clip-path="url(#ctp02)"><use href="#t02"/></g>
<polyline points="0,17.1 0,85.1 25,85.1" class="wb"/>
<polygon points="0,0 25.9,0 152.8,85.1 25,85.1 16.8,17.1 0,17.1" class="ol"/>
<polyline points="121.1,63.8 94.3,85.1" class="ol"/>
<path d="M-0.2 9.6 3 10 6.1 10.7 9.1 11.6 12.2 12.9 13.6 13.7 14.8 14.6 15.8 15.7 16.7 17 17.4 18.5 18 20.1" class="dl"/>
<path d="M22.1 66.5 44.3 70.3 78.2 77.1 84 78.7 88.3 80.2 92.3 82.5 93.7 83.1 95 83.5 109.9 83.9 152.1 84.4" class="dl"/>
</g>
<g transform="translate(7.4,358.4) scale(0.888)">
<g clip-path="url(#cp03)"><use href="#fa3"/></g>
<g clip-path="url(#ctp03)"><use href="#t03"/></g>
<polyline points="0,17.1 0,85.1 25,85.1" class="wb"/>
<polygon points="0,0 25.9,0 121.1,64.3 151,64.3 183.1,85.1 25,85.1 16.8,17.1 0,17.1" class="ol4"/>
<polyline points="121.1,64.3 94.5,85.1" class="ol4"/>
<path d="M-0.2 9.2 3.4 9.7 7 10.6 10.4 11.7 14.1 13.2 15.5 14.2 16.3 15.4 16.9 17 17.4 18.9 17.6 20.9" class="dl"/>
<path d="M22.9 66.6 44.5 71 66.3 75 81.4 77.9 86.3 79.2 92.6 82 94.1 82.5 99.1 83.6 104.2 83.9 116.1 84.2 182.5 85" class="dl"/>
</g>
<g transform="translate(191.5,8.2) scale(1.0)">
<g clip-path="url(#cp10)"><use href="#fb1"/></g>
<polyline points="0,17.1 0,85.1 25,85.1" class="wb"/>
<polygon points="0,0 25.9,0 152.8,85.1 25,85.1 16.8,17.1 0,17.1" class="ol"/>
<path d="M0.1 0.1 3.1 0.7 6 1.5 10.1 3.3 15.2 6.6 17.7 8.5 20 10.5 21.8 12.8 23.8 16.9 24.8 19.8 26.1 25.7 26.6 27.1 27.4 28.4 29.3 30.8 31.4 32.9 38.5 38.7 42.5 40.3 54.4 43.4 71.6 49.1 86.2 53 96.4 56 112.2 61 117.9 63.1 120.7 64.3 123.3 65.7 129.7 69.7 152.3 84.9" class="dl"/>
</g>
<g transform="translate(191.5,128.4) scale(0.9025)">
<g clip-path="url(#cp11)"><use href="#fb1"/></g>
<g clip-path="url(#ctp11)"><use href="#t11"/></g>
<polyline points="0,17.1 0,85.1 25,85.1" class="wb"/>
<polygon points="0,0 25.9,0 152.8,85.1 25,85.1 16.8,17.1 0,17.1" class="ol"/>
<polyline points="123.5,64.6 153.9,64.6 184.8,85.1 152.8,85.1" class="ol"/>
<path d="M0.1 0.1 5.1 1.1 9.7 2.7 14.1 5.4 17.9 8.6 20.3 11.1 22.1 13.9 23.3 16.9 24.6 21.9 25.7 25 27.3 28 29.2 30.8 31.3 33.2 33.9 35.3 38.2 38.1 42.6 40.4 48.8 42.9 56.8 45.5 61.7 46.8 76.3 50.3 94 55.4 103.5 58.5 117.7 63.7 120.8 65 123.7 66.5 137.5 76.1 140.3 77.9 144.8 80.1 148 81.3 149.6 81.6 152.9 81.9 164.6 82.4 171.3 83 177.9 83.9 184.5 85.1" class="dl"/>
</g>
<g transform="translate(191.5,241.5) scale(1.0)">
<g clip-path="url(#cp12)"><use href="#fb3"/></g>
<g clip-path="url(#ctp12)"><use href="#t12"/></g>
<polyline points="0,17.1 0,85.1 25,85.1" class="wb"/>
<polygon points="0,0 25.9,0 152.8,85.1 25,85.1 16.8,17.1 0,17.1" class="ol"/>
<polyline points="121.1,63.8 94.3,85.1" class="ol"/>
<path d="M0.1 0.1 3.1 0.7 6 1.5 8.7 2.6 10.1 3.3 12.7 4.9 15 6.7 17.2 8.8 19.2 11.1 20.9 13.6 22.7 17.6 25.5 26.3 26.5 32.2 27.2 35.1 29 39.3 31.4 43.1 33.3 45.4 36.7 48.5 39.2 50.1 41.8 51.4 44.6 52.6 63.1 59.1 68.7 61.3 75.7 64.1 82.5 67.1 86.5 69.2 90.3 71.6 95.3 75 98.9 78.1 100.1 78.9 101.4 79.2 102.8 79.4 107.3 79.8 131.4 80.8 137.4 81.2 146.3 82.7 152.1 84.3" class="dl"/>
</g>
<g transform="translate(191.5,358.4) scale(0.888)">
<g clip-path="url(#cp13)"><use href="#fb3r3"/></g>
<g clip-path="url(#ctp13)"><use href="#t13"/></g>
<polyline points="0,17.1 0,85.1 25,85.1" class="wb"/>
<polygon points="0,0 25.9,0 121.1,64.3 151,64.3 183.1,85.1 25,85.1 16.8,17.1 0,17.1" class="ol4"/>
<polyline points="121.1,64.3 94.5,85.1" class="ol4"/>
<path d="M0.1 1.1 5.2 2.1 8.4 3.2 11.5 4.6 15.8 7.5 19.4 11.1 21.4 14 22.8 17 23.6 20.2 26.4 35.5 27.5 38.5 28.4 40 29.4 41.4 31.7 44 35.5 47.4 39.7 50.3 45.8 53.6 52 56.1 72.9 63.6 80.8 66.8 87 69.6 93 72.8 98.8 76.9 100.2 77.6 103.4 78 135.8 79.8 161.3 81.5 171.4 82.7 183.1 85" class="dl"/>
</g>
<g transform="translate(375.3,8.2) scale(1.0)">
<g clip-path="url(#cp20)"><use href="#fc1"/></g>
<polyline points="0,17.1 0,85.1 25,85.1" class="wb"/>
<polygon points="0,0 25.9,0 152.8,85.1 25,85.1 16.8,17.1 0,17.1" class="ol"/>
<path d="M0.1 0.2 12.1 0.5 13.5 0.8 14.9 1.4 20.1 4.7 23.6 7.7 25.7 9.8 27.6 12.1 31.1 17.1 34.4 22.2 36.2 24.5 39.6 27.5 44.7 30.8 51.4 34.3 59.7 37.8 83.8 46.5 95 50.9 105.1 54.2 107.8 55.4 111.7 57.7 119.3 62.7 140.5 76.9 153.3 84.9" class="dl"/>
</g>
<g transform="translate(375.3,128.4) scale(0.9025)">
<g clip-path="url(#cp21)"><use href="#fc1"/></g>
<g clip-path="url(#ctp21)"><use href="#t21"/></g>
<polyline points="0,17.1 0,85.1 25,85.1" class="wb"/>
<polygon points="0,0 25.9,0 152.8,85.1 25,85.1 16.8,17.1 0,17.1" class="ol"/>
<polyline points="123.5,64.6 153.9,64.6 184.8,85.1 152.8,85.1" class="ol"/>
<path d="M0.3 0.1 12.1 0.4 13.7 0.6 16.8 1.9 21.1 4.5 23.7 6.8 27 10.6 32.5 19 36.7 24.3 40.2 27.9 42.8 29.9 45.6 31.7 50.1 34.1 54.7 36.1 59.4 37.8 70.7 41.2 83.3 45.6 88 47.4 106.5 55.3 109.5 56.8 115.2 60.3 125.5 66 135.4 72.3 142.3 77.1 145.2 78.7 149.9 80.4 153.2 81.3 154.8 81.6 168.2 82.4 173.2 82.8 179.8 83.9 184.7 85.1" class="dl"/>
</g>
<g transform="translate(375.3,241.5) scale(1.0)">
<g clip-path="url(#cp22)"><use href="#fc3"/></g>
<g clip-path="url(#ctp22)"><use href="#t22"/></g>
<polyline points="0,17.1 0,85.1 25,85.1" class="wb"/>
<polygon points="0,0 25.9,0 152.8,85.1 25,85.1 16.8,17.1 0,17.1" class="ol"/>
<polyline points="121.1,63.8 94.3,85.1" class="ol"/>
<path d="M0.3 0.1 8.1 0.2 13.8 0.6 15.2 1.1 17.9 2.7 20.3 4.7 22.4 6.7 25.2 10.4 27.4 14.3 30.1 21.4 31.4 24.1 35.2 30.7 37.7 34.3 39.8 36.6 42 38.7 46.7 42.4 51.9 45.5 55.9 47.6 66.9 52.5 73.7 55.8 79 58.7 92.1 66.3 94.6 68 96.8 69.9 100.6 75.1 101.6 76 102.7 76.6 104.1 77.1 107.1 77.8 110.2 78.2 116.2 78.9 128.2 79.7 135.7 80.5 141.7 81.3 147.5 82.6 153.3 84.5" class="dl"/>
</g>
<g transform="translate(375.3,358.4) scale(0.888)">
<g clip-path="url(#cp23)"><use href="#fc3r3"/></g>
<g clip-path="url(#ctp23)"><use href="#t23"/></g>
<polyline points="0,17.1 0,85.1 25,85.1" class="wb"/>
<polygon points="0,0 25.9,0 121.1,64.3 151,64.3 183.1,85.1 25,85.1 16.8,17.1 0,17.1" class="ol4"/>
<polyline points="121.1,64.3 94.5,85.1" class="ol4"/>
<path d="M0.3 0.1 8.9 0.3 12.2 0.7 15.4 2 19.6 4.8 20.9 5.9 23.3 8.4 26.2 12.7 27.5 15.7 29.9 22.2 32.1 26.8 33.8 29.8 36.8 33.8 39.1 36.3 41.7 38.6 45.7 41.6 50.1 44.2 60.7 49.8 72.9 55.8 86.2 63.2 90.6 65.9 96.2 69.7 101.6 74.3 103 75.2 104.4 75.7 109.3 76.4 143.3 78.8 156.9 79.9 165.4 80.8 170.4 81.6 173.7 82.2 178.6 83.6 183.4 85.2" class="dl"/>
</g>
<text x="266" y="105.6" class="lb">No toe</text>
<text x="266" y="216.9" class="lb">External</text>
<text x="266" y="337.7" class="lb">Internal</text>
<text x="265.5" y="446.6" class="lb">Combined</text>
<text x="79.1" y="474.2" class="abc">(a)</text>
<text x="267.7" y="474.2" class="abc">(b)</text>
<text x="447.1" y="474.2" class="abc">(c)</text>
<rect x="34.6" y="492.6" width="8" height="7.4" fill="#78CCF8" class="sw"/>
<text x="46" y="500.2" class="lg">–3 - –2.5 kPa</text>
<rect x="34.6" y="503.9" width="8" height="7.4" fill="#7CE8F8" class="sw"/>
<text x="46" y="511.5" class="lg">–2.5 - –2 kPa</text>
<rect x="34.6" y="515.2" width="8" height="7.4" fill="#7CF8EC" class="sw"/>
<text x="46" y="522.8" class="lg">–2 - –1.5 kPa</text>
<rect x="116.4" y="492.6" width="8" height="7.4" fill="#80F8D5" class="sw"/>
<text x="128.3" y="500.2" class="lg">–1.5 - –1 kPa</text>
<rect x="116.4" y="503.9" width="8" height="7.4" fill="#80F8B5" class="sw"/>
<text x="128.3" y="511.5" class="lg">–1 - –0.5 kPa</text>
<rect x="116.4" y="515.2" width="8" height="7.4" fill="#80F895" class="sw"/>
<text x="128.3" y="522.8" class="lg">–0.5 - 0 kPa</text>
<rect x="199" y="492.6" width="8" height="7.4" fill="#86F880" class="sw"/>
<text x="211.8" y="500.2" class="lg">0 - 0.5 kPa</text>
<rect x="199" y="503.9" width="8" height="7.4" fill="#9CF874" class="sw"/>
<text x="211.8" y="511.5" class="lg">0.5 - 1 kPa</text>
<rect x="199" y="515.2" width="8" height="7.4" fill="#AEF870" class="sw"/>
<text x="211.8" y="522.8" class="lg">1 - 1.5 kPa</text>
<rect x="273.4" y="492.6" width="8" height="7.4" fill="#C0F470" class="sw"/>
<text x="284.6" y="500.2" class="lg">1.5 - 2 kPa</text>
<rect x="273.4" y="503.9" width="8" height="7.4" fill="#D8F870" class="sw"/>
<text x="284.6" y="511.5" class="lg">2 - 2.5 kPa</text>
<rect x="273.4" y="515.2" width="8" height="7.4" fill="#F0F874" class="sw"/>
<text x="284.6" y="522.8" class="lg">2.5 - 3 kPa</text>
<rect x="352.5" y="492.6" width="8" height="7.4" fill="#FBF870" class="sw"/>
<text x="364.5" y="500.2" class="lg">3 - 3.5 kPa</text>
<rect x="352.5" y="503.9" width="8" height="7.4" fill="#FBD878" class="sw"/>
<text x="364.5" y="511.5" class="lg">3.5 - 4 kPa</text>
<rect x="352.5" y="515.2" width="8" height="7.4" fill="#FBB878" class="sw"/>
<text x="364.5" y="522.8" class="lg">4 - 4.5 kPa</text>
<rect x="427.7" y="492.6" width="8" height="7.4" fill="#FBA878" class="sw"/>
<text x="440.4" y="500.2" class="lg">4.5 - 5 kPa</text>
<rect x="427.7" y="503.9" width="8" height="7.4" fill="#F89078" class="sw"/>
<text x="440.4" y="511.5" class="lg">5 - 5.5 kPa</text>
<rect x="427.7" y="515.2" width="8" height="7.4" fill="#F87078" class="sw"/>
<text x="440.4" y="522.8" class="lg">5.5 - 6 kPa</text>
</svg>
</body></html>
